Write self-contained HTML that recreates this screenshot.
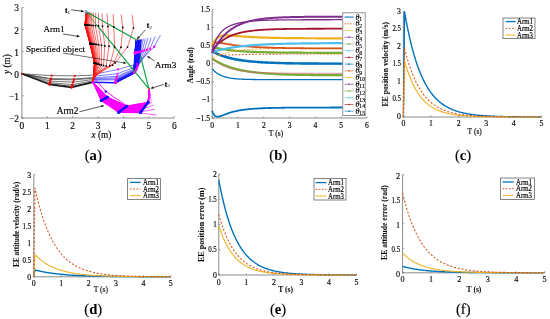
<!DOCTYPE html>
<html><head><meta charset="utf-8"><title>Figure</title>
<style>
html,body{margin:0;padding:0;background:#fff;}
svg{display:block;font-family:"Liberation Serif","DejaVu Serif",serif;filter:blur(0.35px);}
text{stroke:#000;stroke-width:0.16px;}
text[font-weight="bold"],tspan[font-weight="bold"]{stroke-width:0.04px;}
</style></head><body>
<svg width="550" height="319" viewBox="0 0 550 319">
<rect width="550" height="319" fill="#fff"/>
<line x1="21.9" y1="7.5" x2="21.9" y2="118.5" stroke="#6e6e6e" stroke-width="0.8" />
<line x1="21.4" y1="118" x2="174.3" y2="118" stroke="#6e6e6e" stroke-width="0.8" />
<line x1="21.9" y1="118" x2="21.9" y2="116.2" stroke="#6e6e6e" stroke-width="0.6400000000000001" />
<text x="21.9" y="128.8" font-size="9.4" text-anchor="middle" fill="#0a0a0a">0</text>
<line x1="47.3" y1="118" x2="47.3" y2="116.2" stroke="#6e6e6e" stroke-width="0.6400000000000001" />
<text x="47.3" y="128.8" font-size="9.4" text-anchor="middle" fill="#0a0a0a">1</text>
<line x1="72.7" y1="118" x2="72.7" y2="116.2" stroke="#6e6e6e" stroke-width="0.6400000000000001" />
<text x="72.7" y="128.8" font-size="9.4" text-anchor="middle" fill="#0a0a0a">2</text>
<line x1="98.1" y1="118" x2="98.1" y2="116.2" stroke="#6e6e6e" stroke-width="0.6400000000000001" />
<text x="98.1" y="128.8" font-size="9.4" text-anchor="middle" fill="#0a0a0a">3</text>
<line x1="123.5" y1="118" x2="123.5" y2="116.2" stroke="#6e6e6e" stroke-width="0.6400000000000001" />
<text x="123.5" y="128.8" font-size="9.4" text-anchor="middle" fill="#0a0a0a">4</text>
<line x1="148.9" y1="118" x2="148.9" y2="116.2" stroke="#6e6e6e" stroke-width="0.6400000000000001" />
<text x="148.9" y="128.8" font-size="9.4" text-anchor="middle" fill="#0a0a0a">5</text>
<line x1="174.3" y1="118" x2="174.3" y2="116.2" stroke="#6e6e6e" stroke-width="0.6400000000000001" />
<text x="174.3" y="128.8" font-size="9.4" text-anchor="middle" fill="#0a0a0a">6</text>
<line x1="21.9" y1="7.5" x2="23.7" y2="7.5" stroke="#6e6e6e" stroke-width="0.6400000000000001" />
<text x="18.9" y="11.45" font-size="9.4" text-anchor="end" fill="#0a0a0a">3</text>
<line x1="21.9" y1="29.6" x2="23.7" y2="29.6" stroke="#6e6e6e" stroke-width="0.6400000000000001" />
<text x="18.9" y="33.55" font-size="9.4" text-anchor="end" fill="#0a0a0a">2</text>
<line x1="21.9" y1="51.7" x2="23.7" y2="51.7" stroke="#6e6e6e" stroke-width="0.6400000000000001" />
<text x="18.9" y="55.65" font-size="9.4" text-anchor="end" fill="#0a0a0a">1</text>
<line x1="21.9" y1="73.8" x2="23.7" y2="73.8" stroke="#6e6e6e" stroke-width="0.6400000000000001" />
<text x="18.9" y="77.75" font-size="9.4" text-anchor="end" fill="#0a0a0a">0</text>
<line x1="21.9" y1="95.9" x2="23.7" y2="95.9" stroke="#6e6e6e" stroke-width="0.6400000000000001" />
<text x="18.9" y="99.85" font-size="9.4" text-anchor="end" fill="#0a0a0a">−1</text>
<line x1="21.9" y1="118" x2="23.7" y2="118" stroke="#6e6e6e" stroke-width="0.6400000000000001" />
<text x="18.9" y="121.95" font-size="9.4" text-anchor="end" fill="#0a0a0a">−2</text>
<text x="101.5" y="137.6" font-size="9.3" text-anchor="middle" fill="#0a0a0a"><tspan font-style="italic">x</tspan> (m)</text>
<text transform="translate(9.9,64) rotate(-90)" font-size="9.3" text-anchor="middle" fill="#0a0a0a"><tspan font-style="italic">y</tspan> (m)</text>
<polyline points="21.9,73.8 51.7,75.6 74.7,75.85 93.5,75.1" fill="none" stroke="#1a1a1a" stroke-width="0.6" stroke-linejoin="round"/>
<polyline points="21.9,73.8 51,78.6 74,79 93.4,77.6" fill="none" stroke="#1a1a1a" stroke-width="0.6" stroke-linejoin="round"/>
<polyline points="21.9,73.8 50.7,79.4 73.8,79.9 93.4,78.2" fill="none" stroke="#1a1a1a" stroke-width="0.6" stroke-linejoin="round"/>
<polyline points="21.9,73.8 50.3,81.1 73.2,82.2 93.3,79.5" fill="none" stroke="#1a1a1a" stroke-width="0.6" stroke-linejoin="round"/>
<polyline points="21.9,73.8 49.9,82.7 72.5,84.6 93.2,80.9" fill="none" stroke="#1a1a1a" stroke-width="0.6" stroke-linejoin="round"/>
<polyline points="21.9,73.8 49.5,83.8 71.9,86.4 93.1,81.8" fill="none" stroke="#1a1a1a" stroke-width="0.9" stroke-linejoin="round"/>
<polyline points="21.9,73.8 49.3,84.5 71.5,87.5 93.1,82.25" fill="none" stroke="#1a1a1a" stroke-width="1.3" stroke-linejoin="round"/>
<circle cx="51.7" cy="75.6" r="1.1" fill="#f00000"/>
<circle cx="74.7" cy="75.85" r="1.1" fill="#f00000"/>
<circle cx="51" cy="78.6" r="1.1" fill="#f00000"/>
<circle cx="74" cy="79" r="1.1" fill="#f00000"/>
<circle cx="50.7" cy="79.4" r="1.1" fill="#f00000"/>
<circle cx="73.8" cy="79.9" r="1.1" fill="#f00000"/>
<circle cx="50.3" cy="81.1" r="1.1" fill="#f00000"/>
<circle cx="73.2" cy="82.2" r="1.1" fill="#f00000"/>
<circle cx="49.9" cy="82.7" r="1.1" fill="#f00000"/>
<circle cx="72.5" cy="84.6" r="1.1" fill="#f00000"/>
<circle cx="49.5" cy="83.8" r="1.1" fill="#f00000"/>
<circle cx="71.9" cy="86.4" r="1.1" fill="#f00000"/>
<circle cx="49.3" cy="84.5" r="1.1" fill="#f00000"/>
<circle cx="71.5" cy="87.5" r="1.1" fill="#f00000"/>
<line x1="49.9" y1="82.7" x2="49.3" y2="84.5" stroke="#f00000" stroke-width="2.0" stroke-linecap="round"/>
<line x1="72.5" y1="84.6" x2="71.5" y2="87.5" stroke="#f00000" stroke-width="2.0" stroke-linecap="round"/>
<circle cx="21.9" cy="73.8" r="1.0" fill="#f00000"/>
<polyline points="93.1,82.25 101,100.5 118.5,112.5 140.3,112.8" fill="none" stroke="#ff00ff" stroke-width="0.66" />
<polyline points="93.1,82.25 101.12,100.44 118.65,112.38 140.44,112.61" fill="none" stroke="#ff00ff" stroke-width="0.66" />
<polyline points="93.1,82.25 101.23,100.38 118.8,112.27 140.59,112.42" fill="none" stroke="#ff00ff" stroke-width="0.66" />
<polyline points="93.1,82.25 101.35,100.31 118.96,112.15 140.73,112.23" fill="none" stroke="#ff00ff" stroke-width="0.66" />
<polyline points="93.1,82.25 101.46,100.25 119.11,112.04 140.87,112.04" fill="none" stroke="#ff00ff" stroke-width="0.66" />
<polyline points="93.1,82.25 101.58,100.19 119.26,111.92 141.01,111.84" fill="none" stroke="#ff00ff" stroke-width="0.66" />
<polyline points="93.1,82.25 101.7,100.12 119.41,111.8 141.16,111.65" fill="none" stroke="#ff00ff" stroke-width="0.66" />
<polyline points="93.1,82.25 101.81,100.06 119.56,111.69 141.3,111.46" fill="none" stroke="#ff00ff" stroke-width="0.66" />
<polyline points="93.1,82.25 101.93,100 119.71,111.57 141.44,111.27" fill="none" stroke="#ff00ff" stroke-width="0.66" />
<polyline points="93.1,82.25 102.04,99.94 119.87,111.46 141.59,111.08" fill="none" stroke="#ff00ff" stroke-width="0.66" />
<polyline points="93.1,82.25 102.16,99.88 120.02,111.34 141.73,110.89" fill="none" stroke="#ff00ff" stroke-width="0.66" />
<polyline points="93.1,82.25 102.28,99.81 120.17,111.22 141.87,110.7" fill="none" stroke="#ff00ff" stroke-width="0.66" />
<polyline points="93.1,82.25 102.39,99.75 120.32,111.11 142.01,110.51" fill="none" stroke="#ff00ff" stroke-width="0.66" />
<polyline points="93.1,82.25 102.51,99.69 120.47,110.99 142.16,110.32" fill="none" stroke="#ff00ff" stroke-width="0.66" />
<polyline points="93.1,82.25 102.62,99.62 120.62,110.88 142.3,110.12" fill="none" stroke="#ff00ff" stroke-width="0.66" />
<polyline points="93.1,82.25 102.74,99.56 120.78,110.76 142.44,109.93" fill="none" stroke="#ff00ff" stroke-width="0.66" />
<polyline points="93.1,82.25 102.86,99.5 120.93,110.64 142.59,109.74" fill="none" stroke="#ff00ff" stroke-width="0.66" />
<polyline points="93.1,82.25 102.97,99.44 121.08,110.53 142.73,109.55" fill="none" stroke="#ff00ff" stroke-width="0.66" />
<polyline points="93.1,82.25 103.09,99.38 121.23,110.41 142.87,109.36" fill="none" stroke="#ff00ff" stroke-width="0.66" />
<polyline points="93.1,82.25 103.21,99.31 121.38,110.29 143.01,109.17" fill="none" stroke="#ff00ff" stroke-width="0.66" />
<polyline points="93.1,82.25 103.32,99.25 121.54,110.18 143.16,108.98" fill="none" stroke="#ff00ff" stroke-width="0.66" />
<polyline points="93.1,82.25 103.44,99.19 121.69,110.06 143.3,108.79" fill="none" stroke="#ff00ff" stroke-width="0.66" />
<polyline points="93.1,82.25 103.55,99.12 121.84,109.95 143.44,108.6" fill="none" stroke="#ff00ff" stroke-width="0.66" />
<polyline points="93.1,82.25 103.67,99.06 121.99,109.83 143.59,108.41" fill="none" stroke="#ff00ff" stroke-width="0.66" />
<polyline points="93.1,82.25 103.79,99 122.14,109.71 143.73,108.21" fill="none" stroke="#ff00ff" stroke-width="0.66" />
<polyline points="93.1,82.25 103.9,98.94 122.29,109.6 143.87,108.02" fill="none" stroke="#ff00ff" stroke-width="0.66" />
<polyline points="93.1,82.25 104.02,98.88 122.45,109.48 144.01,107.83" fill="none" stroke="#ff00ff" stroke-width="0.66" />
<polyline points="93.1,82.25 104.13,98.81 122.6,109.37 144.16,107.64" fill="none" stroke="#ff00ff" stroke-width="0.66" />
<polyline points="93.1,82.25 104.25,98.75 122.75,109.25 144.3,107.45" fill="none" stroke="#ff00ff" stroke-width="0.66" />
<polyline points="93.1,82.25 104.37,98.69 122.9,109.13 144.44,107.26" fill="none" stroke="#ff00ff" stroke-width="0.66" />
<polyline points="93.1,82.25 104.48,98.62 123.05,109.02 144.59,107.07" fill="none" stroke="#ff00ff" stroke-width="0.66" />
<polyline points="93.1,82.25 104.6,98.56 123.21,108.9 144.73,106.88" fill="none" stroke="#ff00ff" stroke-width="0.66" />
<polyline points="93.1,82.25 104.71,98.5 123.36,108.79 144.87,106.69" fill="none" stroke="#ff00ff" stroke-width="0.66" />
<polyline points="93.1,82.25 104.83,98.44 123.51,108.67 145.01,106.49" fill="none" stroke="#ff00ff" stroke-width="0.66" />
<polyline points="93.1,82.25 104.95,98.38 123.66,108.55 145.16,106.3" fill="none" stroke="#ff00ff" stroke-width="0.66" />
<polyline points="93.1,82.25 105.06,98.31 123.81,108.44 145.3,106.11" fill="none" stroke="#ff00ff" stroke-width="0.66" />
<polyline points="93.1,82.25 105.18,98.25 123.96,108.32 145.44,105.92" fill="none" stroke="#ff00ff" stroke-width="0.66" />
<polyline points="93.1,82.25 105.29,98.19 124.12,108.21 145.59,105.73" fill="none" stroke="#ff00ff" stroke-width="0.66" />
<polyline points="93.1,82.25 105.41,98.12 124.27,108.09 145.73,105.54" fill="none" stroke="#ff00ff" stroke-width="0.66" />
<polyline points="93.1,82.25 105.53,98.06 124.42,107.97 145.87,105.35" fill="none" stroke="#ff00ff" stroke-width="0.66" />
<polyline points="93.1,82.25 105.64,98 124.57,107.86 146.01,105.16" fill="none" stroke="#ff00ff" stroke-width="0.66" />
<polyline points="93.1,82.25 105.76,97.94 124.72,107.74 146.16,104.97" fill="none" stroke="#ff00ff" stroke-width="0.66" />
<polyline points="93.1,82.25 105.88,97.88 124.88,107.62 146.3,104.77" fill="none" stroke="#ff00ff" stroke-width="0.66" />
<polyline points="93.1,82.25 105.99,97.81 125.03,107.51 146.44,104.58" fill="none" stroke="#ff00ff" stroke-width="0.66" />
<polyline points="93.1,82.25 106.11,97.75 125.18,107.39 146.59,104.39" fill="none" stroke="#ff00ff" stroke-width="0.66" />
<polyline points="93.1,82.25 106.22,97.69 125.33,107.28 146.73,104.2" fill="none" stroke="#ff00ff" stroke-width="0.66" />
<polyline points="93.1,82.25 106.34,97.62 125.48,107.16 146.87,104.01" fill="none" stroke="#ff00ff" stroke-width="0.66" />
<polyline points="93.1,82.25 106.46,97.56 125.63,107.04 147.01,103.82" fill="none" stroke="#ff00ff" stroke-width="0.66" />
<polyline points="93.1,82.25 106.57,97.5 125.79,106.93 147.16,103.63" fill="none" stroke="#ff00ff" stroke-width="0.66" />
<polyline points="93.1,82.25 106.69,97.44 125.94,106.81 147.3,103.44" fill="none" stroke="#ff00ff" stroke-width="0.66" />
<polyline points="93.1,82.25 106.8,97.38 126.09,106.7 147.44,103.25" fill="none" stroke="#ff00ff" stroke-width="0.66" />
<polyline points="93.1,82.25 106.92,97.31 126.24,106.58 147.59,103.06" fill="none" stroke="#ff00ff" stroke-width="0.66" />
<polyline points="93.1,82.25 107.04,97.25 126.39,106.46 147.73,102.86" fill="none" stroke="#ff00ff" stroke-width="0.66" />
<polyline points="93.1,82.25 107.15,97.19 126.54,106.35 147.87,102.67" fill="none" stroke="#ff00ff" stroke-width="0.66" />
<polyline points="93.1,82.25 107.27,97.12 126.7,106.23 148.01,102.48" fill="none" stroke="#ff00ff" stroke-width="0.66" />
<polyline points="93.1,82.25 107.38,97.06 126.85,106.12 148.16,102.29" fill="none" stroke="#ff00ff" stroke-width="0.66" />
<polyline points="93.1,82.25 107.5,97 127,106 148.3,102.1" fill="none" stroke="#ff00ff" stroke-width="0.66" />
<polyline points="140.3,112.8 156.85,115.2" fill="none" stroke="#ff00ff" stroke-width="0.65" />
<polyline points="141.26,111.52 154.7,109.4" fill="none" stroke="#ff00ff" stroke-width="0.65" />
<polyline points="143.1,109.05 153.1,105.3" fill="none" stroke="#ff00ff" stroke-width="0.65" />
<polyline points="145.1,106.38 152.3,102.1" fill="none" stroke="#ff00ff" stroke-width="0.65" />
<polyline points="146.3,104.77 151.8,99.5" fill="none" stroke="#ff00ff" stroke-width="0.65" />
<polyline points="147.1,103.7 151.2,97" fill="none" stroke="#ff00ff" stroke-width="0.65" />
<polyline points="147.46,103.22 150.69,95.2" fill="none" stroke="#ff00ff" stroke-width="0.8" />
<polyline points="147.71,102.89 150.3,93.79" fill="none" stroke="#ff00ff" stroke-width="0.8" />
<polyline points="147.89,102.65 149.99,92.69" fill="none" stroke="#ff00ff" stroke-width="0.8" />
<polyline points="148.01,102.49 149.75,91.84" fill="none" stroke="#ff00ff" stroke-width="0.8" />
<polyline points="148.1,102.37 149.56,91.17" fill="none" stroke="#ff00ff" stroke-width="0.8" />
<polyline points="148.16,102.29 149.42,90.65" fill="none" stroke="#ff00ff" stroke-width="0.8" />
<polyline points="148.2,102.23 149.3,90.24" fill="none" stroke="#ff00ff" stroke-width="0.8" />
<polyline points="148.23,102.19 149.22,89.92" fill="none" stroke="#ff00ff" stroke-width="0.8" />
<polyline points="148.25,102.16 149.15,89.68" fill="none" stroke="#ff00ff" stroke-width="0.8" />
<polyline points="148.27,102.15 149.09,89.48" fill="none" stroke="#ff00ff" stroke-width="0.8" />
<polyline points="148.28,102.13 149.05,89.33" fill="none" stroke="#ff00ff" stroke-width="0.8" />
<polyline points="148.28,102.12 149.02,89.22" fill="none" stroke="#ff00ff" stroke-width="0.8" />
<polyline points="148.29,102.12 148.99,89.12" fill="none" stroke="#ff00ff" stroke-width="0.8" />
<polyline points="148.29,102.11 148.97,89.05" fill="none" stroke="#ff00ff" stroke-width="0.8" />
<polyline points="148.29,102.11 148.96,89" fill="none" stroke="#ff00ff" stroke-width="0.8" />
<polyline points="148.3,102.11 148.94,88.95" fill="none" stroke="#ff00ff" stroke-width="0.8" />
<polyline points="148.3,102.1 148.93,88.92" fill="none" stroke="#ff00ff" stroke-width="0.8" />
<polyline points="148.3,102.1 148.93,88.89" fill="none" stroke="#ff00ff" stroke-width="0.8" />
<polyline points="148.3,102.1 148.92,88.87" fill="none" stroke="#ff00ff" stroke-width="0.8" />
<polyline points="148.3,102.1 148.92,88.86" fill="none" stroke="#ff00ff" stroke-width="0.8" />
<polyline points="148.3,102.1 148.9,88.8" fill="none" stroke="#ff00ff" stroke-width="0.8" />
<polyline points="93.5,76.5 105.8,91.5 127,106" fill="none" stroke="#ff00ff" stroke-width="0.6" />
<polyline points="93.4,79 107.5,92.5 127,106" fill="none" stroke="#ff00ff" stroke-width="0.6" />
<circle cx="101" cy="100.5" r="1.3" fill="#1414ff"/>
<circle cx="118.5" cy="112.5" r="1.3" fill="#1414ff"/>
<circle cx="140.3" cy="112.8" r="1.3" fill="#1414ff"/>
<circle cx="101.12" cy="100.44" r="1.3" fill="#1414ff"/>
<circle cx="118.65" cy="112.38" r="1.3" fill="#1414ff"/>
<circle cx="140.44" cy="112.61" r="1.3" fill="#1414ff"/>
<circle cx="101.23" cy="100.38" r="1.3" fill="#1414ff"/>
<circle cx="118.8" cy="112.27" r="1.3" fill="#1414ff"/>
<circle cx="140.59" cy="112.42" r="1.3" fill="#1414ff"/>
<circle cx="101.35" cy="100.31" r="1.3" fill="#1414ff"/>
<circle cx="118.96" cy="112.15" r="1.3" fill="#1414ff"/>
<circle cx="140.73" cy="112.23" r="1.3" fill="#1414ff"/>
<circle cx="101.46" cy="100.25" r="0.95" fill="#1414ff"/>
<circle cx="119.11" cy="112.04" r="0.95" fill="#1414ff"/>
<circle cx="140.87" cy="112.04" r="0.95" fill="#1414ff"/>
<circle cx="101.58" cy="100.19" r="0.95" fill="#1414ff"/>
<circle cx="119.26" cy="111.92" r="0.95" fill="#1414ff"/>
<circle cx="141.01" cy="111.84" r="0.95" fill="#1414ff"/>
<circle cx="101.7" cy="100.12" r="0.95" fill="#1414ff"/>
<circle cx="119.41" cy="111.8" r="0.95" fill="#1414ff"/>
<circle cx="141.16" cy="111.65" r="0.95" fill="#1414ff"/>
<circle cx="101.81" cy="100.06" r="0.95" fill="#1414ff"/>
<circle cx="119.56" cy="111.69" r="0.95" fill="#1414ff"/>
<circle cx="141.3" cy="111.46" r="0.95" fill="#1414ff"/>
<circle cx="101.93" cy="100" r="0.95" fill="#1414ff"/>
<circle cx="119.71" cy="111.57" r="0.95" fill="#1414ff"/>
<circle cx="141.44" cy="111.27" r="0.95" fill="#1414ff"/>
<circle cx="102.04" cy="99.94" r="0.95" fill="#1414ff"/>
<circle cx="119.87" cy="111.46" r="0.95" fill="#1414ff"/>
<circle cx="141.59" cy="111.08" r="0.95" fill="#1414ff"/>
<circle cx="102.16" cy="99.88" r="0.95" fill="#1414ff"/>
<circle cx="120.02" cy="111.34" r="0.95" fill="#1414ff"/>
<circle cx="141.73" cy="110.89" r="0.95" fill="#1414ff"/>
<circle cx="102.28" cy="99.81" r="0.95" fill="#1414ff"/>
<circle cx="120.17" cy="111.22" r="0.95" fill="#1414ff"/>
<circle cx="141.87" cy="110.7" r="0.95" fill="#1414ff"/>
<circle cx="102.39" cy="99.75" r="0.95" fill="#1414ff"/>
<circle cx="120.32" cy="111.11" r="0.95" fill="#1414ff"/>
<circle cx="142.01" cy="110.51" r="0.95" fill="#1414ff"/>
<circle cx="102.51" cy="99.69" r="0.95" fill="#1414ff"/>
<circle cx="120.47" cy="110.99" r="0.95" fill="#1414ff"/>
<circle cx="142.16" cy="110.32" r="0.95" fill="#1414ff"/>
<circle cx="102.62" cy="99.62" r="0.95" fill="#1414ff"/>
<circle cx="120.62" cy="110.88" r="0.95" fill="#1414ff"/>
<circle cx="142.3" cy="110.12" r="0.95" fill="#1414ff"/>
<circle cx="102.74" cy="99.56" r="0.95" fill="#1414ff"/>
<circle cx="120.78" cy="110.76" r="0.95" fill="#1414ff"/>
<circle cx="142.44" cy="109.93" r="0.95" fill="#1414ff"/>
<circle cx="102.86" cy="99.5" r="0.95" fill="#1414ff"/>
<circle cx="120.93" cy="110.64" r="0.95" fill="#1414ff"/>
<circle cx="142.59" cy="109.74" r="0.95" fill="#1414ff"/>
<circle cx="102.97" cy="99.44" r="0.95" fill="#1414ff"/>
<circle cx="121.08" cy="110.53" r="0.95" fill="#1414ff"/>
<circle cx="142.73" cy="109.55" r="0.95" fill="#1414ff"/>
<circle cx="103.09" cy="99.38" r="0.95" fill="#1414ff"/>
<circle cx="121.23" cy="110.41" r="0.95" fill="#1414ff"/>
<circle cx="142.87" cy="109.36" r="0.95" fill="#1414ff"/>
<circle cx="103.21" cy="99.31" r="0.95" fill="#1414ff"/>
<circle cx="121.38" cy="110.29" r="0.95" fill="#1414ff"/>
<circle cx="143.01" cy="109.17" r="0.95" fill="#1414ff"/>
<circle cx="103.32" cy="99.25" r="0.95" fill="#1414ff"/>
<circle cx="121.54" cy="110.18" r="0.95" fill="#1414ff"/>
<circle cx="143.16" cy="108.98" r="0.95" fill="#1414ff"/>
<circle cx="103.44" cy="99.19" r="0.95" fill="#1414ff"/>
<circle cx="121.69" cy="110.06" r="0.95" fill="#1414ff"/>
<circle cx="143.3" cy="108.79" r="0.95" fill="#1414ff"/>
<circle cx="103.55" cy="99.12" r="0.95" fill="#1414ff"/>
<circle cx="121.84" cy="109.95" r="0.95" fill="#1414ff"/>
<circle cx="143.44" cy="108.6" r="0.95" fill="#1414ff"/>
<circle cx="103.67" cy="99.06" r="0.95" fill="#1414ff"/>
<circle cx="121.99" cy="109.83" r="0.95" fill="#1414ff"/>
<circle cx="143.59" cy="108.41" r="0.95" fill="#1414ff"/>
<circle cx="103.79" cy="99" r="0.95" fill="#1414ff"/>
<circle cx="122.14" cy="109.71" r="0.95" fill="#1414ff"/>
<circle cx="143.73" cy="108.21" r="0.95" fill="#1414ff"/>
<circle cx="103.9" cy="98.94" r="0.95" fill="#1414ff"/>
<circle cx="122.29" cy="109.6" r="0.95" fill="#1414ff"/>
<circle cx="143.87" cy="108.02" r="0.95" fill="#1414ff"/>
<circle cx="104.02" cy="98.88" r="0.95" fill="#1414ff"/>
<circle cx="122.45" cy="109.48" r="0.95" fill="#1414ff"/>
<circle cx="144.01" cy="107.83" r="0.95" fill="#1414ff"/>
<circle cx="104.13" cy="98.81" r="0.95" fill="#1414ff"/>
<circle cx="122.6" cy="109.37" r="0.95" fill="#1414ff"/>
<circle cx="144.16" cy="107.64" r="0.95" fill="#1414ff"/>
<circle cx="104.25" cy="98.75" r="0.95" fill="#1414ff"/>
<circle cx="122.75" cy="109.25" r="0.95" fill="#1414ff"/>
<circle cx="144.3" cy="107.45" r="0.95" fill="#1414ff"/>
<circle cx="104.37" cy="98.69" r="0.95" fill="#1414ff"/>
<circle cx="122.9" cy="109.13" r="0.95" fill="#1414ff"/>
<circle cx="144.44" cy="107.26" r="0.95" fill="#1414ff"/>
<circle cx="104.48" cy="98.62" r="0.95" fill="#1414ff"/>
<circle cx="123.05" cy="109.02" r="0.95" fill="#1414ff"/>
<circle cx="144.59" cy="107.07" r="0.95" fill="#1414ff"/>
<circle cx="104.6" cy="98.56" r="0.95" fill="#1414ff"/>
<circle cx="123.21" cy="108.9" r="0.95" fill="#1414ff"/>
<circle cx="144.73" cy="106.88" r="0.95" fill="#1414ff"/>
<circle cx="104.71" cy="98.5" r="0.95" fill="#1414ff"/>
<circle cx="123.36" cy="108.79" r="0.95" fill="#1414ff"/>
<circle cx="144.87" cy="106.69" r="0.95" fill="#1414ff"/>
<circle cx="104.83" cy="98.44" r="0.95" fill="#1414ff"/>
<circle cx="123.51" cy="108.67" r="0.95" fill="#1414ff"/>
<circle cx="145.01" cy="106.49" r="0.95" fill="#1414ff"/>
<circle cx="104.95" cy="98.38" r="0.95" fill="#1414ff"/>
<circle cx="123.66" cy="108.55" r="0.95" fill="#1414ff"/>
<circle cx="145.16" cy="106.3" r="0.95" fill="#1414ff"/>
<circle cx="105.06" cy="98.31" r="0.95" fill="#1414ff"/>
<circle cx="123.81" cy="108.44" r="0.95" fill="#1414ff"/>
<circle cx="145.3" cy="106.11" r="0.95" fill="#1414ff"/>
<circle cx="105.18" cy="98.25" r="0.95" fill="#1414ff"/>
<circle cx="123.96" cy="108.32" r="0.95" fill="#1414ff"/>
<circle cx="145.44" cy="105.92" r="0.95" fill="#1414ff"/>
<circle cx="105.29" cy="98.19" r="0.95" fill="#1414ff"/>
<circle cx="124.12" cy="108.21" r="0.95" fill="#1414ff"/>
<circle cx="145.59" cy="105.73" r="0.95" fill="#1414ff"/>
<circle cx="105.41" cy="98.12" r="0.95" fill="#1414ff"/>
<circle cx="124.27" cy="108.09" r="0.95" fill="#1414ff"/>
<circle cx="145.73" cy="105.54" r="0.95" fill="#1414ff"/>
<circle cx="105.53" cy="98.06" r="0.95" fill="#1414ff"/>
<circle cx="124.42" cy="107.97" r="0.95" fill="#1414ff"/>
<circle cx="145.87" cy="105.35" r="0.95" fill="#1414ff"/>
<circle cx="105.64" cy="98" r="0.95" fill="#1414ff"/>
<circle cx="124.57" cy="107.86" r="0.95" fill="#1414ff"/>
<circle cx="146.01" cy="105.16" r="0.95" fill="#1414ff"/>
<circle cx="105.76" cy="97.94" r="0.95" fill="#1414ff"/>
<circle cx="124.72" cy="107.74" r="0.95" fill="#1414ff"/>
<circle cx="146.16" cy="104.97" r="0.95" fill="#1414ff"/>
<circle cx="105.88" cy="97.88" r="0.95" fill="#1414ff"/>
<circle cx="124.88" cy="107.62" r="0.95" fill="#1414ff"/>
<circle cx="146.3" cy="104.77" r="0.95" fill="#1414ff"/>
<circle cx="105.99" cy="97.81" r="0.95" fill="#1414ff"/>
<circle cx="125.03" cy="107.51" r="0.95" fill="#1414ff"/>
<circle cx="146.44" cy="104.58" r="0.95" fill="#1414ff"/>
<circle cx="106.11" cy="97.75" r="0.95" fill="#1414ff"/>
<circle cx="125.18" cy="107.39" r="0.95" fill="#1414ff"/>
<circle cx="146.59" cy="104.39" r="0.95" fill="#1414ff"/>
<circle cx="106.22" cy="97.69" r="0.95" fill="#1414ff"/>
<circle cx="125.33" cy="107.28" r="0.95" fill="#1414ff"/>
<circle cx="146.73" cy="104.2" r="0.95" fill="#1414ff"/>
<circle cx="106.34" cy="97.62" r="0.95" fill="#1414ff"/>
<circle cx="125.48" cy="107.16" r="0.95" fill="#1414ff"/>
<circle cx="146.87" cy="104.01" r="0.95" fill="#1414ff"/>
<circle cx="106.46" cy="97.56" r="0.95" fill="#1414ff"/>
<circle cx="125.63" cy="107.04" r="0.95" fill="#1414ff"/>
<circle cx="147.01" cy="103.82" r="0.95" fill="#1414ff"/>
<circle cx="106.57" cy="97.5" r="0.95" fill="#1414ff"/>
<circle cx="125.79" cy="106.93" r="0.95" fill="#1414ff"/>
<circle cx="147.16" cy="103.63" r="0.95" fill="#1414ff"/>
<circle cx="106.69" cy="97.44" r="0.95" fill="#1414ff"/>
<circle cx="125.94" cy="106.81" r="0.95" fill="#1414ff"/>
<circle cx="147.3" cy="103.44" r="0.95" fill="#1414ff"/>
<circle cx="106.8" cy="97.38" r="0.95" fill="#1414ff"/>
<circle cx="126.09" cy="106.7" r="0.95" fill="#1414ff"/>
<circle cx="147.44" cy="103.25" r="0.95" fill="#1414ff"/>
<circle cx="106.92" cy="97.31" r="0.95" fill="#1414ff"/>
<circle cx="126.24" cy="106.58" r="0.95" fill="#1414ff"/>
<circle cx="147.59" cy="103.06" r="0.95" fill="#1414ff"/>
<circle cx="107.04" cy="97.25" r="0.95" fill="#1414ff"/>
<circle cx="126.39" cy="106.46" r="0.95" fill="#1414ff"/>
<circle cx="147.73" cy="102.86" r="0.95" fill="#1414ff"/>
<circle cx="107.15" cy="97.19" r="1.3" fill="#1414ff"/>
<circle cx="126.54" cy="106.35" r="1.3" fill="#1414ff"/>
<circle cx="147.87" cy="102.67" r="1.3" fill="#1414ff"/>
<circle cx="107.27" cy="97.12" r="1.3" fill="#1414ff"/>
<circle cx="126.7" cy="106.23" r="1.3" fill="#1414ff"/>
<circle cx="148.01" cy="102.48" r="1.3" fill="#1414ff"/>
<circle cx="107.38" cy="97.06" r="1.3" fill="#1414ff"/>
<circle cx="126.85" cy="106.12" r="1.3" fill="#1414ff"/>
<circle cx="148.16" cy="102.29" r="1.3" fill="#1414ff"/>
<circle cx="107.5" cy="97" r="1.3" fill="#1414ff"/>
<circle cx="127" cy="106" r="1.3" fill="#1414ff"/>
<circle cx="148.3" cy="102.1" r="1.3" fill="#1414ff"/>
<circle cx="105.8" cy="91.5" r="1.2" fill="#1414ff"/>
<polyline points="93.5,74.5 118,69.4 137.3,64 154.2,46.8 160.5,35" fill="none" stroke="#1414ff" stroke-width="0.55" stroke-linejoin="round"/>
<polyline points="93.41,76.28 117.5,73.75 137.6,66 150,48.7 155,36.8" fill="none" stroke="#1414ff" stroke-width="0.55" stroke-linejoin="round"/>
<polyline points="93.34,77.66 117,76.3 137.2,67.6 147,49.8 151.2,37.5" fill="none" stroke="#1414ff" stroke-width="0.55" stroke-linejoin="round"/>
<polyline points="93.28,78.71 116.6,77.78 136.46,68.84 144.24,50.54 148,38" fill="none" stroke="#1414ff" stroke-width="0.55" stroke-linejoin="round"/>
<polyline points="93.24,79.53 116.29,78.93 135.9,69.8 142.11,51.1 145.5,38.5" fill="none" stroke="#1414ff" stroke-width="0.55" stroke-linejoin="round"/>
<polyline points="93.21,80.15 116.05,79.81 135.46,70.53 140.48,51.54 143.38,38.8" fill="none" stroke="#1414ff" stroke-width="0.55" stroke-linejoin="round"/>
<polyline points="115.87,80.48 135.12,71.1 139.22,51.88 141.75,39.03" fill="none" stroke="#1414ff" stroke-width="0.7" />
<polyline points="115.72,81 134.87,71.54 138.25,52.13 140.5,39.21" fill="none" stroke="#1414ff" stroke-width="0.7" />
<polyline points="115.61,81.41 134.67,71.87 137.5,52.33 139.53,39.34" fill="none" stroke="#1414ff" stroke-width="0.7" />
<polyline points="115.53,81.71 134.51,72.13 136.93,52.49 138.79,39.45" fill="none" stroke="#1414ff" stroke-width="0.7" />
<polyline points="115.47,81.95 134.4,72.33 136.48,52.6 138.22,39.53" fill="none" stroke="#1414ff" stroke-width="0.7" />
<polyline points="115.42,82.14 134.3,72.49 136.14,52.7 137.78,39.59" fill="none" stroke="#1414ff" stroke-width="0.7" />
<polyline points="115.38,82.28 134.23,72.6 135.88,52.77 137.44,39.64" fill="none" stroke="#1414ff" stroke-width="0.7" />
<polyline points="115.35,82.39 134.18,72.7 135.68,52.82 137.18,39.68" fill="none" stroke="#1414ff" stroke-width="0.7" />
<polyline points="115.33,82.47 134.14,72.77 135.52,52.86 136.97,39.7" fill="none" stroke="#1414ff" stroke-width="0.7" />
<polyline points="115.31,82.53 134.11,72.82 135.4,52.89 136.82,39.73" fill="none" stroke="#1414ff" stroke-width="0.7" />
<polyline points="115.3,82.58 134.08,72.86 135.31,52.92 136.7,39.74" fill="none" stroke="#1414ff" stroke-width="0.7" />
<polyline points="115.28,82.62 134.06,72.89 135.24,52.94 136.61,39.76" fill="none" stroke="#1414ff" stroke-width="0.7" />
<polyline points="115.28,82.65 134.05,72.92 135.18,52.95 136.54,39.77" fill="none" stroke="#1414ff" stroke-width="0.7" />
<polyline points="115.27,82.67 134.04,72.94 135.14,52.96 136.48,39.77" fill="none" stroke="#1414ff" stroke-width="0.7" />
<polyline points="115.27,82.69 134.03,72.95 135.11,52.97 136.44,39.78" fill="none" stroke="#1414ff" stroke-width="0.7" />
<polyline points="115.26,82.71 134.02,72.96 135.08,52.98 136.41,39.78" fill="none" stroke="#1414ff" stroke-width="0.7" />
<polyline points="115.26,82.72 134.02,72.97 135.06,52.98 136.38,39.79" fill="none" stroke="#1414ff" stroke-width="0.7" />
<polyline points="115.26,82.72 134.01,72.98 135.05,52.99 136.36,39.79" fill="none" stroke="#1414ff" stroke-width="0.7" />
<polyline points="115.26,82.73 134.01,72.98 135.04,52.99 136.35,39.79" fill="none" stroke="#1414ff" stroke-width="0.7" />
<polyline points="115.25,82.73 134.01,72.99 135.03,52.99 136.34,39.79" fill="none" stroke="#1414ff" stroke-width="0.7" />
<polyline points="115.25,82.74 134.01,72.99 135.02,52.99 136.33,39.8" fill="none" stroke="#1414ff" stroke-width="0.7" />
<polyline points="115.25,82.74 134,72.99 135.02,53 136.32,39.8" fill="none" stroke="#1414ff" stroke-width="0.7" />
<polyline points="115.25,82.74 134,72.99 135.01,53 136.32,39.8" fill="none" stroke="#1414ff" stroke-width="0.7" />
<polyline points="115.25,82.74 134,73 135.01,53 136.31,39.8" fill="none" stroke="#1414ff" stroke-width="0.7" />
<polyline points="93.1,82.25 115.25,82.75 134,73 135,53 136.3,39.8" fill="none" stroke="#1414ff" stroke-width="1.6" stroke-linejoin="round"/>
<polygon points="135.2,40.2 141.4,40.0 140.6,57 137.2,70.5 134.2,73.6 133.5,72 134.9,53" fill="#1414ff"/>
<circle cx="118" cy="69.4" r="1.1" fill="#ff00ff"/>
<circle cx="137.3" cy="64" r="1.1" fill="#ff00ff"/>
<circle cx="154.2" cy="46.8" r="1.2" fill="#ff00ff"/>
<circle cx="117.5" cy="73.75" r="1.1" fill="#ff00ff"/>
<circle cx="137.6" cy="66" r="1.1" fill="#ff00ff"/>
<circle cx="150" cy="48.7" r="1.2" fill="#ff00ff"/>
<circle cx="117" cy="76.3" r="1.1" fill="#ff00ff"/>
<circle cx="137.2" cy="67.6" r="1.1" fill="#ff00ff"/>
<circle cx="147" cy="49.8" r="1.2" fill="#ff00ff"/>
<circle cx="116.6" cy="77.78" r="1.1" fill="#ff00ff"/>
<circle cx="136.46" cy="68.84" r="1.1" fill="#ff00ff"/>
<circle cx="144.24" cy="50.54" r="1.2" fill="#ff00ff"/>
<circle cx="116.29" cy="78.93" r="1.1" fill="#ff00ff"/>
<circle cx="135.9" cy="69.8" r="1.1" fill="#ff00ff"/>
<circle cx="142.11" cy="51.1" r="1.2" fill="#ff00ff"/>
<circle cx="116.05" cy="79.81" r="1.1" fill="#ff00ff"/>
<circle cx="135.46" cy="70.53" r="1.1" fill="#ff00ff"/>
<circle cx="140.48" cy="51.54" r="1.2" fill="#ff00ff"/>
<circle cx="115.87" cy="80.48" r="1.1" fill="#ff00ff"/>
<circle cx="135.12" cy="71.1" r="1.1" fill="#ff00ff"/>
<circle cx="139.22" cy="51.88" r="1.2" fill="#ff00ff"/>
<circle cx="115.72" cy="81" r="1.1" fill="#ff00ff"/>
<circle cx="134.87" cy="71.54" r="1.1" fill="#ff00ff"/>
<circle cx="138.25" cy="52.13" r="1.2" fill="#ff00ff"/>
<circle cx="115.61" cy="81.41" r="1.1" fill="#ff00ff"/>
<circle cx="134.67" cy="71.87" r="1.1" fill="#ff00ff"/>
<circle cx="137.5" cy="52.33" r="1.2" fill="#ff00ff"/>
<circle cx="115.53" cy="81.71" r="1.1" fill="#ff00ff"/>
<circle cx="134.51" cy="72.13" r="1.1" fill="#ff00ff"/>
<circle cx="136.93" cy="52.49" r="1.2" fill="#ff00ff"/>
<circle cx="115.47" cy="81.95" r="1.1" fill="#ff00ff"/>
<circle cx="134.4" cy="72.33" r="1.1" fill="#ff00ff"/>
<circle cx="136.48" cy="52.6" r="1.2" fill="#ff00ff"/>
<circle cx="115.42" cy="82.14" r="1.1" fill="#ff00ff"/>
<circle cx="134.3" cy="72.49" r="1.1" fill="#ff00ff"/>
<circle cx="136.14" cy="52.7" r="1.2" fill="#ff00ff"/>
<circle cx="115.38" cy="82.28" r="1.1" fill="#ff00ff"/>
<circle cx="134.23" cy="72.6" r="1.1" fill="#ff00ff"/>
<circle cx="135.88" cy="52.77" r="1.2" fill="#ff00ff"/>
<circle cx="115.35" cy="82.39" r="1.1" fill="#ff00ff"/>
<circle cx="134.18" cy="72.7" r="1.1" fill="#ff00ff"/>
<circle cx="135.68" cy="52.82" r="1.2" fill="#ff00ff"/>
<circle cx="115.33" cy="82.47" r="1.1" fill="#ff00ff"/>
<circle cx="134.14" cy="72.77" r="1.1" fill="#ff00ff"/>
<circle cx="135.52" cy="52.86" r="1.2" fill="#ff00ff"/>
<circle cx="115.31" cy="82.53" r="1.1" fill="#ff00ff"/>
<circle cx="134.11" cy="72.82" r="1.1" fill="#ff00ff"/>
<circle cx="135.4" cy="52.89" r="1.2" fill="#ff00ff"/>
<circle cx="115.3" cy="82.58" r="1.1" fill="#ff00ff"/>
<circle cx="134.08" cy="72.86" r="1.1" fill="#ff00ff"/>
<circle cx="135.31" cy="52.92" r="1.2" fill="#ff00ff"/>
<circle cx="115.28" cy="82.62" r="1.1" fill="#ff00ff"/>
<circle cx="134.06" cy="72.89" r="1.1" fill="#ff00ff"/>
<circle cx="135.24" cy="52.94" r="1.2" fill="#ff00ff"/>
<circle cx="115.28" cy="82.65" r="1.1" fill="#ff00ff"/>
<circle cx="134.05" cy="72.92" r="1.1" fill="#ff00ff"/>
<circle cx="135.18" cy="52.95" r="1.2" fill="#ff00ff"/>
<circle cx="115.27" cy="82.67" r="1.1" fill="#ff00ff"/>
<circle cx="134.04" cy="72.94" r="1.1" fill="#ff00ff"/>
<circle cx="135.14" cy="52.96" r="1.2" fill="#ff00ff"/>
<circle cx="115.27" cy="82.69" r="1.1" fill="#ff00ff"/>
<circle cx="134.03" cy="72.95" r="1.1" fill="#ff00ff"/>
<circle cx="135.11" cy="52.97" r="1.2" fill="#ff00ff"/>
<circle cx="115.26" cy="82.71" r="1.1" fill="#ff00ff"/>
<circle cx="134.02" cy="72.96" r="1.1" fill="#ff00ff"/>
<circle cx="135.08" cy="52.98" r="1.2" fill="#ff00ff"/>
<circle cx="115.26" cy="82.72" r="1.1" fill="#ff00ff"/>
<circle cx="134.02" cy="72.97" r="1.1" fill="#ff00ff"/>
<circle cx="135.06" cy="52.98" r="1.2" fill="#ff00ff"/>
<circle cx="115.26" cy="82.72" r="1.1" fill="#ff00ff"/>
<circle cx="134.01" cy="72.98" r="1.1" fill="#ff00ff"/>
<circle cx="135.05" cy="52.99" r="1.2" fill="#ff00ff"/>
<circle cx="115.26" cy="82.73" r="1.1" fill="#ff00ff"/>
<circle cx="134.01" cy="72.98" r="1.1" fill="#ff00ff"/>
<circle cx="135.04" cy="52.99" r="1.2" fill="#ff00ff"/>
<circle cx="115.25" cy="82.73" r="1.1" fill="#ff00ff"/>
<circle cx="134.01" cy="72.99" r="1.1" fill="#ff00ff"/>
<circle cx="135.03" cy="52.99" r="1.2" fill="#ff00ff"/>
<circle cx="115.25" cy="82.74" r="1.1" fill="#ff00ff"/>
<circle cx="134.01" cy="72.99" r="1.1" fill="#ff00ff"/>
<circle cx="135.02" cy="52.99" r="1.2" fill="#ff00ff"/>
<circle cx="115.25" cy="82.74" r="1.1" fill="#ff00ff"/>
<circle cx="134" cy="72.99" r="1.1" fill="#ff00ff"/>
<circle cx="135.02" cy="53" r="1.2" fill="#ff00ff"/>
<circle cx="115.25" cy="82.74" r="1.1" fill="#ff00ff"/>
<circle cx="134" cy="72.99" r="1.1" fill="#ff00ff"/>
<circle cx="135.01" cy="53" r="1.2" fill="#ff00ff"/>
<circle cx="115.25" cy="82.74" r="1.1" fill="#ff00ff"/>
<circle cx="134" cy="73" r="1.1" fill="#ff00ff"/>
<circle cx="135.01" cy="53" r="1.2" fill="#ff00ff"/>
<circle cx="115.25" cy="82.75" r="1.1" fill="#ff00ff"/>
<circle cx="134" cy="73" r="1.1" fill="#ff00ff"/>
<circle cx="135" cy="53" r="1.2" fill="#ff00ff"/>
<polyline points="93.5,74.5 115.2,62.9 127.5,47.1 133.5,28.1 132.2,15" fill="none" stroke="#ff1010" stroke-width="0.6" />
<polyline points="93.41,76.28 112.5,65.2 121,47.25 122.75,27.5 121,14.5" fill="none" stroke="#ff1010" stroke-width="0.6" />
<polyline points="93.34,77.66 109.7,65.75 114.6,46.9 113.75,26.9 113.2,14" fill="none" stroke="#ff1010" stroke-width="0.6" />
<polyline points="93.28,78.71 106.2,65.9 109,46.25 107.9,26.5 107,13.7" fill="none" stroke="#ff1010" stroke-width="0.6" />
<polyline points="93.24,79.53 103.5,65.5 104.75,45.9 102.5,26.25 102.2,13.5" fill="none" stroke="#ff1010" stroke-width="0.6" />
<polyline points="93.21,80.15 101.4,65 101.5,45.25 98.5,26 98.54,13.2" fill="none" stroke="#ff1010" stroke-width="0.6" />
<polyline points="93.18,80.63 99.8,64.6 98.75,44.75 95.39,25.72 95.73,12.97" fill="none" stroke="#ff1010" stroke-width="0.6" />
<polyline points="93.16,81.01 98.58,64.21 96.74,44.46 93,25.51 93.56,12.79" fill="none" stroke="#ff1010" stroke-width="0.6" />
<polyline points="93.15,81.29 97.64,63.91 95.19,44.24 91.16,25.35 91.89,12.66" fill="none" stroke="#ff1010" stroke-width="0.6" />
<polyline points="93.14,81.51 96.92,63.68 93.99,44.07 89.75,25.22 90.6,12.55" fill="none" stroke="#ff1010" stroke-width="0.6" />
<polyline points="93.13,81.68 96.36,63.5 93.08,43.94 88.65,25.12 89.61,12.47" fill="none" stroke="#ff1010" stroke-width="0.6" />
<polyline points="93.12,81.81 95.93,63.36 92.37,43.84 87.81,25.05 88.85,12.41" fill="none" stroke="#ff1010" stroke-width="0.6" />
<polyline points="93.12,81.91 95.6,63.25 91.82,43.76 87.17,24.99 88.26,12.36" fill="none" stroke="#ff1010" stroke-width="0.6" />
<polyline points="93.11,81.99 95.35,63.17 91.4,43.7 86.67,24.95 87.81,12.32" fill="none" stroke="#ff1010" stroke-width="0.6" />
<polyline points="93.11,82.05 95.15,63.11 91.08,43.65 86.28,24.91 87.46,12.3" fill="none" stroke="#ff1010" stroke-width="0.6" />
<polyline points="93.11,82.1 95,63.06 90.83,43.62 85.99,24.89 87.2,12.27" fill="none" stroke="#ff1010" stroke-width="0.6" />
<polyline points="93.11,82.13 94.89,63.02 90.64,43.59 85.76,24.87 86.99,12.26" fill="none" stroke="#ff1010" stroke-width="0.6" />
<polyline points="93.1,82.16 94.8,63 90.49,43.57 85.59,24.85 86.83,12.24" fill="none" stroke="#ff1010" stroke-width="0.6" />
<polyline points="93.1,82.18 94.73,62.97 90.38,43.55 85.45,24.84 86.71,12.23" fill="none" stroke="#ff1010" stroke-width="0.6" />
<polyline points="93.1,82.2 94.68,62.96 90.29,43.54 85.35,24.83 86.62,12.23" fill="none" stroke="#ff1010" stroke-width="0.6" />
<polyline points="93.1,82.21 94.64,62.94 90.23,43.53 85.27,24.82 86.54,12.22" fill="none" stroke="#ff1010" stroke-width="0.6" />
<polyline points="93.1,82.22 94.61,62.93 90.17,43.52 85.21,24.82 86.49,12.22" fill="none" stroke="#ff1010" stroke-width="0.6" />
<polyline points="93.1,82.23 94.58,62.93 90.13,43.52 85.16,24.81 86.44,12.21" fill="none" stroke="#ff1010" stroke-width="0.6" />
<polyline points="93.1,82.23 94.56,62.92 90.1,43.51 85.12,24.81 86.41,12.21" fill="none" stroke="#ff1010" stroke-width="0.6" />
<polyline points="93.1,82.24 94.55,62.92 90.08,43.51 85.09,24.81 86.39,12.21" fill="none" stroke="#ff1010" stroke-width="0.6" />
<polyline points="93.1,82.24 94.54,62.91 90.06,43.51 85.07,24.81 86.37,12.21" fill="none" stroke="#ff1010" stroke-width="0.6" />
<polyline points="93.1,82.24 94.53,62.91 90.05,43.51 85.06,24.8 86.35,12.2" fill="none" stroke="#ff1010" stroke-width="0.6" />
<polyline points="93.1,82.24 94.52,62.91 90.04,43.51 85.04,24.8 86.34,12.2" fill="none" stroke="#ff1010" stroke-width="0.6" />
<polyline points="93.1,82.24 94.52,62.91 90.03,43.5 85.03,24.8 86.33,12.2" fill="none" stroke="#ff1010" stroke-width="0.6" />
<polyline points="93.1,82.25 94.51,62.9 90.02,43.5 85.03,24.8 86.32,12.2" fill="none" stroke="#ff1010" stroke-width="0.6" />
<polyline points="93.1,82.25 94.5,62.9 90,43.5 85,24.8 86.3,12.2" fill="none" stroke="#ff1010" stroke-width="0.6" />
<line x1="85.8" y1="11.6" x2="96.5" y2="24.7" stroke="#1f8a3a" stroke-width="0.75" />
<line x1="96.5" y1="24.7" x2="148.9" y2="88.8" stroke="#00a040" stroke-width="1.1" />
<line x1="85.8" y1="11.6" x2="136.3" y2="39.8" stroke="#00a040" stroke-width="1.1" />
<line x1="140.5" y1="56" x2="148.9" y2="88.8" stroke="#00a040" stroke-width="1.1" />
<circle cx="115.2" cy="62.9" r="0.9" fill="#000"/>
<circle cx="127.5" cy="47.1" r="0.9" fill="#000"/>
<circle cx="133.5" cy="28.1" r="0.9" fill="#000"/>
<circle cx="112.5" cy="65.2" r="0.9" fill="#000"/>
<circle cx="121" cy="47.25" r="0.9" fill="#000"/>
<circle cx="122.75" cy="27.5" r="0.9" fill="#000"/>
<circle cx="109.7" cy="65.75" r="0.9" fill="#000"/>
<circle cx="114.6" cy="46.9" r="0.9" fill="#000"/>
<circle cx="113.75" cy="26.9" r="0.9" fill="#000"/>
<circle cx="106.2" cy="65.9" r="0.9" fill="#000"/>
<circle cx="109" cy="46.25" r="0.9" fill="#000"/>
<circle cx="107.9" cy="26.5" r="0.9" fill="#000"/>
<circle cx="103.5" cy="65.5" r="0.9" fill="#000"/>
<circle cx="104.75" cy="45.9" r="0.9" fill="#000"/>
<circle cx="102.5" cy="26.25" r="0.9" fill="#000"/>
<circle cx="101.4" cy="65" r="0.9" fill="#000"/>
<circle cx="101.5" cy="45.25" r="0.9" fill="#000"/>
<circle cx="98.5" cy="26" r="0.9" fill="#000"/>
<circle cx="99.8" cy="64.6" r="0.9" fill="#000"/>
<circle cx="98.75" cy="44.75" r="0.9" fill="#000"/>
<circle cx="95.39" cy="25.72" r="0.9" fill="#000"/>
<circle cx="98.58" cy="64.21" r="0.9" fill="#000"/>
<circle cx="96.74" cy="44.46" r="0.9" fill="#000"/>
<circle cx="93" cy="25.51" r="0.9" fill="#000"/>
<circle cx="97.64" cy="63.91" r="0.9" fill="#000"/>
<circle cx="95.19" cy="44.24" r="0.9" fill="#000"/>
<circle cx="91.16" cy="25.35" r="0.9" fill="#000"/>
<circle cx="96.92" cy="63.68" r="0.9" fill="#000"/>
<circle cx="93.99" cy="44.07" r="0.9" fill="#000"/>
<circle cx="89.75" cy="25.22" r="0.9" fill="#000"/>
<circle cx="96.36" cy="63.5" r="0.9" fill="#000"/>
<circle cx="93.08" cy="43.94" r="0.9" fill="#000"/>
<circle cx="88.65" cy="25.12" r="0.9" fill="#000"/>
<circle cx="95.93" cy="63.36" r="0.9" fill="#000"/>
<circle cx="92.37" cy="43.84" r="0.9" fill="#000"/>
<circle cx="87.81" cy="25.05" r="0.9" fill="#000"/>
<circle cx="95.6" cy="63.25" r="0.9" fill="#000"/>
<circle cx="91.82" cy="43.76" r="0.9" fill="#000"/>
<circle cx="87.17" cy="24.99" r="0.9" fill="#000"/>
<circle cx="95.35" cy="63.17" r="0.9" fill="#000"/>
<circle cx="91.4" cy="43.7" r="0.9" fill="#000"/>
<circle cx="86.67" cy="24.95" r="0.9" fill="#000"/>
<circle cx="95.15" cy="63.11" r="0.9" fill="#000"/>
<circle cx="91.08" cy="43.65" r="0.9" fill="#000"/>
<circle cx="86.28" cy="24.91" r="0.9" fill="#000"/>
<circle cx="95" cy="63.06" r="0.9" fill="#000"/>
<circle cx="90.83" cy="43.62" r="0.9" fill="#000"/>
<circle cx="85.99" cy="24.89" r="0.9" fill="#000"/>
<circle cx="94.89" cy="63.02" r="0.9" fill="#000"/>
<circle cx="90.64" cy="43.59" r="0.9" fill="#000"/>
<circle cx="85.76" cy="24.87" r="0.9" fill="#000"/>
<circle cx="94.8" cy="63" r="0.9" fill="#000"/>
<circle cx="90.49" cy="43.57" r="0.9" fill="#000"/>
<circle cx="85.59" cy="24.85" r="0.9" fill="#000"/>
<circle cx="94.73" cy="62.97" r="0.9" fill="#000"/>
<circle cx="90.38" cy="43.55" r="0.9" fill="#000"/>
<circle cx="85.45" cy="24.84" r="0.9" fill="#000"/>
<circle cx="94.68" cy="62.96" r="0.9" fill="#000"/>
<circle cx="90.29" cy="43.54" r="0.9" fill="#000"/>
<circle cx="85.35" cy="24.83" r="0.9" fill="#000"/>
<circle cx="94.64" cy="62.94" r="0.9" fill="#000"/>
<circle cx="90.23" cy="43.53" r="0.9" fill="#000"/>
<circle cx="85.27" cy="24.82" r="0.9" fill="#000"/>
<circle cx="94.61" cy="62.93" r="0.9" fill="#000"/>
<circle cx="90.17" cy="43.52" r="0.9" fill="#000"/>
<circle cx="85.21" cy="24.82" r="0.9" fill="#000"/>
<circle cx="94.58" cy="62.93" r="0.9" fill="#000"/>
<circle cx="90.13" cy="43.52" r="0.9" fill="#000"/>
<circle cx="85.16" cy="24.81" r="0.9" fill="#000"/>
<circle cx="94.56" cy="62.92" r="0.9" fill="#000"/>
<circle cx="90.1" cy="43.51" r="0.9" fill="#000"/>
<circle cx="85.12" cy="24.81" r="0.9" fill="#000"/>
<circle cx="94.55" cy="62.92" r="0.9" fill="#000"/>
<circle cx="90.08" cy="43.51" r="0.9" fill="#000"/>
<circle cx="85.09" cy="24.81" r="0.9" fill="#000"/>
<circle cx="94.54" cy="62.91" r="0.9" fill="#000"/>
<circle cx="90.06" cy="43.51" r="0.9" fill="#000"/>
<circle cx="85.07" cy="24.81" r="0.9" fill="#000"/>
<circle cx="94.53" cy="62.91" r="0.9" fill="#000"/>
<circle cx="90.05" cy="43.51" r="0.9" fill="#000"/>
<circle cx="85.06" cy="24.8" r="0.9" fill="#000"/>
<circle cx="94.52" cy="62.91" r="0.9" fill="#000"/>
<circle cx="90.04" cy="43.51" r="0.9" fill="#000"/>
<circle cx="85.04" cy="24.8" r="0.9" fill="#000"/>
<circle cx="94.52" cy="62.91" r="0.9" fill="#000"/>
<circle cx="90.03" cy="43.5" r="0.9" fill="#000"/>
<circle cx="85.03" cy="24.8" r="0.9" fill="#000"/>
<circle cx="94.51" cy="62.9" r="0.9" fill="#000"/>
<circle cx="90.02" cy="43.5" r="0.9" fill="#000"/>
<circle cx="85.03" cy="24.8" r="0.9" fill="#000"/>
<circle cx="94.5" cy="62.9" r="0.9" fill="#000"/>
<circle cx="90" cy="43.5" r="0.9" fill="#000"/>
<circle cx="85" cy="24.8" r="0.9" fill="#000"/>
<circle cx="93.1" cy="82.25" r="1.2" fill="#ff00ff"/>
<circle cx="85.8" cy="11.6" r="1.1" fill="#cfe0ff" stroke="#3a78d8" stroke-width="0.7"/>
<circle cx="136.3" cy="39.8" r="1.0" fill="#b09020"/>
<circle cx="148.9" cy="88.8" r="1.0" fill="#d06020"/>
<text x="43.6" y="31.6" font-size="9" text-anchor="start" fill="#000">Arm1</text>
<line x1="63" y1="34" x2="76.84" y2="36.12" stroke="#111" stroke-width="0.7" />
<polygon points="80,36.6 76.64,37.4 77.03,34.83" fill="#111"/>
<text x="26" y="52.3" font-size="9.15" text-anchor="start" fill="#000">Specified object</text>
<line x1="63" y1="53" x2="123.44" y2="62.79" stroke="#111" stroke-width="0.6" />
<polygon points="126.6,63.3 123.23,64.07 123.65,61.51" fill="#111"/>
<text x="56.7" y="113.9" font-size="9.3" text-anchor="start" fill="#000">Arm2</text>
<line x1="79.5" y1="111.8" x2="101.3" y2="106.2" stroke="#111" stroke-width="0.7" />
<polygon points="104.4,105.4 101.62,107.46 100.98,104.94" fill="#111"/>
<text x="154.8" y="68" font-size="9.2" text-anchor="start" fill="#000">Arm3</text>
<line x1="154.6" y1="61" x2="149.67" y2="57.76" stroke="#111" stroke-width="0.7" />
<polygon points="147,56 150.39,56.67 148.96,58.84" fill="#111"/>
<text x="64.8" y="13" font-size="9" font-weight="bold" fill="#000">t<tspan font-size="4.6" dy="0.6" font-weight="normal">1</tspan></text>
<line x1="71.2" y1="9.8" x2="81.02" y2="11.01" stroke="#111" stroke-width="0.7" />
<polygon points="84.2,11.4 80.87,12.3 81.18,9.72" fill="#111"/>
<text x="146.5" y="28" font-size="9" font-weight="bold" fill="#000">t<tspan font-size="4.6" dy="0.6" font-weight="normal">2</tspan></text>
<line x1="145.5" y1="29.8" x2="138.97" y2="36.85" stroke="#111" stroke-width="0.7" />
<polygon points="136.8,39.2 138.02,35.97 139.93,37.73" fill="#111"/>
<text x="164.5" y="86.5" font-size="9" font-weight="bold" fill="#000">t<tspan font-size="4.6" dy="0.6" font-weight="normal">3</tspan></text>
<line x1="163.75" y1="84.4" x2="153.46" y2="87.56" stroke="#111" stroke-width="0.7" />
<polygon points="150.4,88.5 153.08,86.32 153.84,88.8" fill="#111"/>
<line x1="403.4" y1="11.6" x2="403.4" y2="117.5" stroke="#6e6e6e" stroke-width="0.8" />
<line x1="402.9" y1="117" x2="541.4" y2="117" stroke="#6e6e6e" stroke-width="0.8" />
<line x1="403.4" y1="117" x2="403.4" y2="115.4" stroke="#6e6e6e" stroke-width="0.6400000000000001" />
<text x="403.4" y="126.3" font-size="7.8" text-anchor="middle" fill="#0a0a0a">0</text>
<line x1="431" y1="117" x2="431" y2="115.4" stroke="#6e6e6e" stroke-width="0.6400000000000001" />
<text x="431" y="126.3" font-size="7.8" text-anchor="middle" fill="#0a0a0a">1</text>
<line x1="458.6" y1="117" x2="458.6" y2="115.4" stroke="#6e6e6e" stroke-width="0.6400000000000001" />
<text x="458.6" y="126.3" font-size="7.8" text-anchor="middle" fill="#0a0a0a">2</text>
<line x1="486.2" y1="117" x2="486.2" y2="115.4" stroke="#6e6e6e" stroke-width="0.6400000000000001" />
<text x="486.2" y="126.3" font-size="7.8" text-anchor="middle" fill="#0a0a0a">3</text>
<line x1="513.8" y1="117" x2="513.8" y2="115.4" stroke="#6e6e6e" stroke-width="0.6400000000000001" />
<text x="513.8" y="126.3" font-size="7.8" text-anchor="middle" fill="#0a0a0a">4</text>
<line x1="541.4" y1="117" x2="541.4" y2="115.4" stroke="#6e6e6e" stroke-width="0.6400000000000001" />
<text x="541.4" y="126.3" font-size="7.8" text-anchor="middle" fill="#0a0a0a">5</text>
<line x1="403.4" y1="117" x2="405" y2="117" stroke="#6e6e6e" stroke-width="0.6400000000000001" />
<text x="401" y="119.03" font-size="7.8" text-anchor="end" fill="#0a0a0a">0</text>
<line x1="403.4" y1="99.43" x2="405" y2="99.43" stroke="#6e6e6e" stroke-width="0.6400000000000001" />
<text x="401" y="101.46" font-size="7.8" text-anchor="end" fill="#0a0a0a" textLength="8.6" lengthAdjust="spacingAndGlyphs">0.5</text>
<line x1="403.4" y1="81.87" x2="405" y2="81.87" stroke="#6e6e6e" stroke-width="0.6400000000000001" />
<text x="401" y="83.89" font-size="7.8" text-anchor="end" fill="#0a0a0a">1</text>
<line x1="403.4" y1="64.3" x2="405" y2="64.3" stroke="#6e6e6e" stroke-width="0.6400000000000001" />
<text x="401" y="66.33" font-size="7.8" text-anchor="end" fill="#0a0a0a" textLength="8.6" lengthAdjust="spacingAndGlyphs">1.5</text>
<line x1="403.4" y1="46.73" x2="405" y2="46.73" stroke="#6e6e6e" stroke-width="0.6400000000000001" />
<text x="401" y="48.76" font-size="7.8" text-anchor="end" fill="#0a0a0a">2</text>
<line x1="403.4" y1="29.17" x2="405" y2="29.17" stroke="#6e6e6e" stroke-width="0.6400000000000001" />
<text x="401" y="31.19" font-size="7.8" text-anchor="end" fill="#0a0a0a" textLength="8.6" lengthAdjust="spacingAndGlyphs">2.5</text>
<line x1="403.4" y1="11.6" x2="405" y2="11.6" stroke="#6e6e6e" stroke-width="0.6400000000000001" />
<text x="401" y="13.63" font-size="7.8" text-anchor="end" fill="#0a0a0a">3</text>
<text x="474.7" y="133.9" font-size="8.3" text-anchor="middle" fill="#0a0a0a" textLength="14.2" lengthAdjust="spacingAndGlyphs">T (s)</text>
<text transform="translate(388.3,64.3) rotate(-90)" font-size="7.75" font-weight="bold" text-anchor="middle" fill="#0a0a0a">EE position velocity (m/s)</text>
<polyline points="403.4,117 403.4,116.67 403.41,115.68 403.43,114.04 403.46,111.73 403.49,108.77 403.52,105.14 403.57,100.86 403.62,95.92 403.68,90.32 403.75,84.06 403.82,77.15 403.9,69.57 403.98,61.34 404.08,52.44 404.18,42.89 404.28,32.68 404.4,21.81 404.52,11.68 404.65,12.42 404.78,13.2 404.92,14.01 405.07,14.85 405.23,15.72 405.39,16.63 405.56,17.56 405.73,18.52 405.92,19.51 406.1,20.53 406.3,21.58 406.5,22.64 406.72,23.74 406.93,24.85 407.16,25.99 407.39,27.14 407.63,28.32 407.87,29.51 408.12,30.72 408.38,31.95 408.65,33.19 408.92,34.44 409.2,35.71 409.49,36.99 409.78,38.27 410.08,39.57 410.39,40.87 410.7,42.19 411.02,43.5 411.35,44.82 411.68,46.15 412.02,47.47 412.37,48.8 412.73,50.13 413.09,51.45 413.46,52.78 413.84,54.1 414.22,55.42 414.61,56.73 415.01,58.04 415.41,59.34 415.82,60.64 416.24,61.92 416.66,63.2 417.09,64.47 417.53,65.73 417.98,66.97 418.43,68.21 418.89,69.43 419.35,70.64 419.83,71.84 420.3,73.02 420.79,74.19 421.28,75.34 421.79,76.48 422.29,77.6 422.81,78.7 423.33,79.79 423.86,80.86 424.39,81.92 424.93,82.95 425.48,83.97 426.04,84.97 426.6,85.95 427.17,86.91 427.74,87.86 428.33,88.78 428.92,89.69 429.51,90.57 430.12,91.44 430.73,92.29 431.34,93.12 431.97,93.93 432.6,94.72 433.24,95.5 433.88,96.25 434.54,96.98 435.2,97.7 435.86,98.4 436.53,99.08 437.21,99.74 437.9,100.38 438.59,101.01 439.29,101.62 440,102.21 440.72,102.78 441.44,103.34 442.16,103.87 442.9,104.4 443.64,104.9 444.39,105.39 445.14,105.87 445.91,106.33 446.68,106.77 447.45,107.2 448.24,107.62 449.03,108.02 449.82,108.41 450.63,108.78 451.44,109.14 452.26,109.49 453.08,109.82 453.91,110.15 454.75,110.46 455.6,110.76 456.45,111.04 457.31,111.32 458.17,111.59 459.05,111.84 459.92,112.09 460.81,112.32 461.7,112.55 462.61,112.76 463.51,112.97 464.43,113.17 465.35,113.36 466.28,113.54 467.21,113.72 468.15,113.88 469.1,114.04 470.06,114.19 471.02,114.34 471.99,114.48 472.97,114.61 473.95,114.74 474.94,114.86 475.94,114.97 476.94,115.08 477.95,115.19 478.97,115.29 479.99,115.38 481.02,115.47 482.06,115.56 483.11,115.64 484.16,115.71 485.22,115.79 486.29,115.86 487.36,115.92 488.44,115.99 489.53,116.04 490.62,116.1 491.72,116.15 492.83,116.2 493.94,116.25 495.06,116.3 496.19,116.34 497.33,116.38 498.47,116.42 499.62,116.45 500.77,116.49 501.94,116.52 503.1,116.55 504.28,116.58 505.46,116.6 506.66,116.63 507.85,116.65 509.06,116.68 510.27,116.7 511.49,116.72 512.71,116.73 513.94,116.75 515.18,116.77 516.43,116.78 517.68,116.8 518.94,116.81 520.2,116.82 521.48,116.84 522.76,116.85 524.04,116.86 525.34,116.87 526.64,116.88 527.94,116.89 529.26,116.89 530.58,116.9 531.91,116.91 533.24,116.91 534.59,116.92 535.94,116.93 537.29,116.93 538.65,116.94 540.02,116.94 541.4,116.95" fill="none" stroke="#0072BD" stroke-width="1.4"  stroke-linejoin="round"/>
<polyline points="403.4,117 403.4,116.82 403.41,116.3 403.43,115.42 403.46,114.19 403.49,112.61 403.52,110.68 403.57,108.39 403.62,105.76 403.68,102.77 403.75,99.43 403.82,95.74 403.9,91.7 403.98,87.31 404.08,82.57 404.18,77.47 404.28,72.03 404.4,66.23 404.52,60.84 404.65,61.29 404.78,61.76 404.92,62.26 405.07,62.77 405.23,63.3 405.39,63.86 405.56,64.42 405.73,65.01 405.92,65.61 406.1,66.23 406.3,66.86 406.5,67.5 406.72,68.16 406.93,68.83 407.16,69.51 407.39,70.2 407.63,70.91 407.87,71.62 408.12,72.34 408.38,73.07 408.65,73.8 408.92,74.54 409.2,75.29 409.49,76.04 409.78,76.8 410.08,77.56 410.39,78.32 410.7,79.09 411.02,79.85 411.35,80.62 411.68,81.38 412.02,82.15 412.37,82.91 412.73,83.67 413.09,84.43 413.46,85.19 413.84,85.94 414.22,86.69 414.61,87.43 415.01,88.16 415.41,88.89 415.82,89.62 416.24,90.34 416.66,91.05 417.09,91.75 417.53,92.44 417.98,93.13 418.43,93.8 418.89,94.47 419.35,95.13 419.83,95.77 420.3,96.41 420.79,97.04 421.28,97.65 421.79,98.26 422.29,98.85 422.81,99.44 423.33,100.01 423.86,100.57 424.39,101.12 424.93,101.66 425.48,102.18 426.04,102.7 426.6,103.2 427.17,103.69 427.74,104.17 428.33,104.63 428.92,105.09 429.51,105.53 430.12,105.96 430.73,106.39 431.34,106.79 431.97,107.19 432.6,107.58 433.24,107.95 433.88,108.31 434.54,108.67 435.2,109.01 435.86,109.34 436.53,109.66 437.21,109.97 437.9,110.27 438.59,110.56 439.29,110.84 440,111.11 440.72,111.37 441.44,111.63 442.16,111.87 442.9,112.1 443.64,112.33 444.39,112.55 445.14,112.75 445.91,112.96 446.68,113.15 447.45,113.33 448.24,113.51 449.03,113.68 449.82,113.85 450.63,114 451.44,114.15 452.26,114.3 453.08,114.44 453.91,114.57 454.75,114.69 455.6,114.82 456.45,114.93 457.31,115.04 458.17,115.15 459.05,115.25 459.92,115.34 460.81,115.43 461.7,115.52 462.61,115.6 463.51,115.68 464.43,115.75 465.35,115.82 466.28,115.89 467.21,115.96 468.15,116.02 469.1,116.07 470.06,116.13 471.02,116.18 471.99,116.23 472.97,116.28 473.95,116.32 474.94,116.36 475.94,116.4 476.94,116.44 477.95,116.47 478.97,116.51 479.99,116.54 481.02,116.57 482.06,116.59 483.11,116.62 484.16,116.64 485.22,116.67 486.29,116.69 487.36,116.71 488.44,116.73 489.53,116.75 490.62,116.76 491.72,116.78 492.83,116.8 493.94,116.81 495.06,116.82 496.19,116.83 497.33,116.85 498.47,116.86 499.62,116.87 500.77,116.88 501.94,116.89 503.1,116.89 504.28,116.9 505.46,116.91 506.66,116.91 507.85,116.92 509.06,116.93 510.27,116.93 511.49,116.94 512.71,116.94 513.94,116.95 515.18,116.95 516.43,116.95 517.68,116.96 518.94,116.96 520.2,116.96 521.48,116.97 522.76,116.97 524.04,116.97 525.34,116.97 526.64,116.98 527.94,116.98 529.26,116.98 530.58,116.98 531.91,116.98 533.24,116.98 534.59,116.99 535.94,116.99 537.29,116.99 538.65,116.99 540.02,116.99 541.4,116.99" fill="none" stroke="#EDB120" stroke-width="1.1"  stroke-linejoin="round"/>
<polyline points="403.4,117 403.4,116.79 403.41,116.14 403.43,115.07 403.46,113.57 403.49,111.65 403.52,109.29 403.57,106.51 403.62,103.3 403.68,99.66 403.75,95.59 403.82,91.09 403.9,86.17 403.98,80.82 404.08,75.04 404.18,68.83 404.28,62.19 404.4,55.13 404.52,48.55 404.65,49.05 404.78,49.59 404.92,50.14 405.07,50.72 405.23,51.32 405.39,51.94 405.56,52.58 405.73,53.23 405.92,53.91 406.1,54.61 406.3,55.32 406.5,56.05 406.72,56.8 406.93,57.56 407.16,58.33 407.39,59.12 407.63,59.92 407.87,60.73 408.12,61.55 408.38,62.38 408.65,63.22 408.92,64.07 409.2,64.93 409.49,65.79 409.78,66.66 410.08,67.54 410.39,68.42 410.7,69.3 411.02,70.19 411.35,71.08 411.68,71.97 412.02,72.86 412.37,73.75 412.73,74.63 413.09,75.52 413.46,76.41 413.84,77.29 414.22,78.17 414.61,79.04 415.01,79.91 415.41,80.78 415.82,81.64 416.24,82.49 416.66,83.33 417.09,84.17 417.53,85 417.98,85.82 418.43,86.64 418.89,87.44 419.35,88.23 419.83,89.02 420.3,89.79 420.79,90.55 421.28,91.3 421.79,92.04 422.29,92.77 422.81,93.49 423.33,94.2 423.86,94.89 424.39,95.57 424.93,96.24 425.48,96.89 426.04,97.53 426.6,98.16 427.17,98.78 427.74,99.38 428.33,99.97 428.92,100.55 429.51,101.11 430.12,101.66 430.73,102.2 431.34,102.73 431.97,103.24 432.6,103.74 433.24,104.22 433.88,104.69 434.54,105.15 435.2,105.6 435.86,106.04 436.53,106.46 437.21,106.87 437.9,107.27 438.59,107.65 439.29,108.03 440,108.39 440.72,108.74 441.44,109.09 442.16,109.41 442.9,109.73 443.64,110.04 444.39,110.34 445.14,110.63 445.91,110.91 446.68,111.17 447.45,111.43 448.24,111.68 449.03,111.92 449.82,112.15 450.63,112.37 451.44,112.59 452.26,112.79 453.08,112.99 453.91,113.18 454.75,113.36 455.6,113.54 456.45,113.71 457.31,113.87 458.17,114.02 459.05,114.17 459.92,114.31 460.81,114.45 461.7,114.58 462.61,114.7 463.51,114.82 464.43,114.93 465.35,115.04 466.28,115.15 467.21,115.25 468.15,115.34 469.1,115.43 470.06,115.51 471.02,115.6 471.99,115.67 472.97,115.75 473.95,115.82 474.94,115.88 475.94,115.95 476.94,116.01 477.95,116.06 478.97,116.12 479.99,116.17 481.02,116.22 482.06,116.26 483.11,116.31 484.16,116.35 485.22,116.39 486.29,116.42 487.36,116.46 488.44,116.49 489.53,116.52 490.62,116.55 491.72,116.58 492.83,116.61 493.94,116.63 495.06,116.66 496.19,116.68 497.33,116.7 498.47,116.72 499.62,116.74 500.77,116.75 501.94,116.77 503.1,116.78 504.28,116.8 505.46,116.81 506.66,116.82 507.85,116.84 509.06,116.85 510.27,116.86 511.49,116.87 512.71,116.88 513.94,116.89 515.18,116.89 516.43,116.9 517.68,116.91 518.94,116.91 520.2,116.92 521.48,116.93 522.76,116.93 524.04,116.94 525.34,116.94 526.64,116.95 527.94,116.95 529.26,116.95 530.58,116.96 531.91,116.96 533.24,116.96 534.59,116.97 535.94,116.97 537.29,116.97 538.65,116.97 540.02,116.98 541.4,116.98" fill="none" stroke="#D95319" stroke-width="1.1" stroke-dasharray="2 1.8" stroke-linejoin="round"/>
<rect x="503" y="18" width="32" height="20.6" fill="#fff" stroke="#666" stroke-width="0.8"/>
<line x1="505.6" y1="21.6" x2="515.6" y2="21.6" stroke="#0072BD" stroke-width="1.3" />
<line x1="505.6" y1="28.4" x2="515.6" y2="28.4" stroke="#D95319" stroke-width="1.0" stroke-dasharray="1.6 1.6"/>
<line x1="505.6" y1="35" x2="515.6" y2="35" stroke="#EDB120" stroke-width="1.0" />
<text x="517" y="24.1" font-size="7.3" text-anchor="start" fill="#000" textLength="15.9" lengthAdjust="spacingAndGlyphs">Arm1</text>
<text x="517" y="30.9" font-size="7.3" text-anchor="start" fill="#000" textLength="15.9" lengthAdjust="spacingAndGlyphs">Arm2</text>
<text x="517" y="37.5" font-size="7.3" text-anchor="start" fill="#000" textLength="15.9" lengthAdjust="spacingAndGlyphs">Arm3</text>
<line x1="33.8" y1="174.4" x2="33.8" y2="277.3" stroke="#6e6e6e" stroke-width="0.8" />
<line x1="33.3" y1="276.8" x2="170.8" y2="276.8" stroke="#6e6e6e" stroke-width="0.8" />
<line x1="33.8" y1="276.8" x2="33.8" y2="275.2" stroke="#6e6e6e" stroke-width="0.6400000000000001" />
<text x="33.8" y="285.7" font-size="7.8" text-anchor="middle" fill="#0a0a0a">0</text>
<line x1="61.2" y1="276.8" x2="61.2" y2="275.2" stroke="#6e6e6e" stroke-width="0.6400000000000001" />
<text x="61.2" y="285.7" font-size="7.8" text-anchor="middle" fill="#0a0a0a">1</text>
<line x1="88.6" y1="276.8" x2="88.6" y2="275.2" stroke="#6e6e6e" stroke-width="0.6400000000000001" />
<text x="88.6" y="285.7" font-size="7.8" text-anchor="middle" fill="#0a0a0a">2</text>
<line x1="116" y1="276.8" x2="116" y2="275.2" stroke="#6e6e6e" stroke-width="0.6400000000000001" />
<text x="116" y="285.7" font-size="7.8" text-anchor="middle" fill="#0a0a0a">3</text>
<line x1="143.4" y1="276.8" x2="143.4" y2="275.2" stroke="#6e6e6e" stroke-width="0.6400000000000001" />
<text x="143.4" y="285.7" font-size="7.8" text-anchor="middle" fill="#0a0a0a">4</text>
<line x1="170.8" y1="276.8" x2="170.8" y2="275.2" stroke="#6e6e6e" stroke-width="0.6400000000000001" />
<text x="170.8" y="285.7" font-size="7.8" text-anchor="middle" fill="#0a0a0a">5</text>
<line x1="33.8" y1="276.8" x2="35.4" y2="276.8" stroke="#6e6e6e" stroke-width="0.6400000000000001" />
<text x="31.2" y="280.39" font-size="7.8" text-anchor="end" fill="#0a0a0a">0</text>
<line x1="33.8" y1="259.73" x2="35.4" y2="259.73" stroke="#6e6e6e" stroke-width="0.6400000000000001" />
<text x="31.2" y="263.32" font-size="7.8" text-anchor="end" fill="#0a0a0a" textLength="8.6" lengthAdjust="spacingAndGlyphs">0.5</text>
<line x1="33.8" y1="242.67" x2="35.4" y2="242.67" stroke="#6e6e6e" stroke-width="0.6400000000000001" />
<text x="31.2" y="246.25" font-size="7.8" text-anchor="end" fill="#0a0a0a">1</text>
<line x1="33.8" y1="225.6" x2="35.4" y2="225.6" stroke="#6e6e6e" stroke-width="0.6400000000000001" />
<text x="31.2" y="229.19" font-size="7.8" text-anchor="end" fill="#0a0a0a" textLength="8.6" lengthAdjust="spacingAndGlyphs">1.5</text>
<line x1="33.8" y1="208.53" x2="35.4" y2="208.53" stroke="#6e6e6e" stroke-width="0.6400000000000001" />
<text x="31.2" y="212.12" font-size="7.8" text-anchor="end" fill="#0a0a0a">2</text>
<line x1="33.8" y1="191.47" x2="35.4" y2="191.47" stroke="#6e6e6e" stroke-width="0.6400000000000001" />
<text x="31.2" y="195.05" font-size="7.8" text-anchor="end" fill="#0a0a0a" textLength="8.6" lengthAdjust="spacingAndGlyphs">2.5</text>
<line x1="33.8" y1="174.4" x2="35.4" y2="174.4" stroke="#6e6e6e" stroke-width="0.6400000000000001" />
<text x="31.2" y="177.99" font-size="7.8" text-anchor="end" fill="#0a0a0a">3</text>
<text x="100.8" y="292.4" font-size="8.3" text-anchor="middle" fill="#0a0a0a" textLength="14.2" lengthAdjust="spacingAndGlyphs">T (s)</text>
<text transform="translate(18.6,224.5) rotate(-90)" font-size="7.4" font-weight="bold" text-anchor="middle" fill="#0a0a0a">EE attitude velocity (rad/s)</text>
<polyline points="33.8,276.8 33.8,276.78 33.81,276.71 33.83,276.61 33.85,276.46 33.89,276.27 33.92,276.03 33.97,275.75 34.02,275.43 34.08,275.07 34.14,274.67 34.21,274.22 34.29,273.73 34.38,273.19 34.47,272.62 34.57,272 34.68,271.34 34.79,270.63 34.91,269.98 35.04,270.01 35.17,270.04 35.31,270.08 35.46,270.12 35.61,270.16 35.77,270.2 35.94,270.24 36.12,270.29 36.3,270.33 36.49,270.38 36.68,270.43 36.88,270.47 37.09,270.53 37.31,270.58 37.53,270.63 37.76,270.68 38,270.74 38.24,270.8 38.49,270.85 38.75,270.91 39.01,270.97 39.28,271.03 39.56,271.09 39.84,271.15 40.13,271.22 40.43,271.28 40.74,271.35 41.05,271.41 41.37,271.48 41.69,271.54 42.02,271.61 42.36,271.68 42.71,271.74 43.06,271.81 43.42,271.88 43.79,271.95 44.16,272.02 44.54,272.09 44.93,272.16 45.32,272.23 45.72,272.3 46.13,272.37 46.54,272.44 46.97,272.51 47.39,272.58 47.83,272.65 48.27,272.72 48.72,272.79 49.17,272.86 49.64,272.93 50.11,272.99 50.58,273.06 51.07,273.13 51.56,273.2 52.05,273.27 52.56,273.34 53.07,273.4 53.58,273.47 54.11,273.54 54.64,273.6 55.18,273.67 55.72,273.73 56.27,273.8 56.83,273.86 57.39,273.92 57.97,273.99 58.55,274.05 59.13,274.11 59.72,274.17 60.32,274.23 60.93,274.29 61.54,274.35 62.16,274.41 62.79,274.46 63.42,274.52 64.06,274.57 64.71,274.63 65.36,274.68 66.03,274.74 66.69,274.79 67.37,274.84 68.05,274.89 68.74,274.94 69.43,274.99 70.14,275.04 70.84,275.08 71.56,275.13 72.28,275.18 73.01,275.22 73.75,275.27 74.49,275.31 75.24,275.35 76,275.39 76.76,275.43 77.53,275.47 78.31,275.51 79.1,275.55 79.89,275.59 80.68,275.62 81.49,275.66 82.3,275.7 83.12,275.73 83.95,275.76 84.78,275.8 85.62,275.83 86.46,275.86 87.32,275.89 88.18,275.92 89.04,275.95 89.92,275.98 90.8,276 91.68,276.03 92.58,276.06 93.48,276.08 94.38,276.11 95.3,276.13 96.22,276.15 97.15,276.18 98.08,276.2 99.03,276.22 99.97,276.24 100.93,276.26 101.89,276.28 102.86,276.3 103.84,276.32 104.82,276.33 105.81,276.35 106.81,276.37 107.81,276.39 108.82,276.4 109.84,276.42 110.86,276.43 111.89,276.45 112.93,276.46 113.98,276.47 115.03,276.49 116.09,276.5 117.15,276.51 118.22,276.52 119.3,276.53 120.39,276.54 121.48,276.55 122.58,276.56 123.69,276.57 124.8,276.58 125.92,276.59 127.05,276.6 128.18,276.61 129.32,276.62 130.47,276.63 131.62,276.63 132.78,276.64 133.95,276.65 135.13,276.65 136.31,276.66 137.5,276.67 138.69,276.67 139.89,276.68 141.1,276.68 142.32,276.69 143.54,276.69 144.77,276.7 146.01,276.7 147.25,276.71 148.5,276.71 149.76,276.72 151.02,276.72 152.29,276.72 153.57,276.73 154.85,276.73 156.14,276.74 157.44,276.74 158.75,276.74 160.06,276.74 161.38,276.75 162.7,276.75 164.04,276.75 165.37,276.75 166.72,276.76 168.07,276.76 169.43,276.76 170.8,276.76" fill="none" stroke="#0072BD" stroke-width="1.4"  stroke-linejoin="round"/>
<polyline points="33.8,276.8 33.8,276.73 33.81,276.52 33.83,276.18 33.85,275.69 33.89,275.07 33.92,274.3 33.97,273.4 34.02,272.36 34.08,271.18 34.14,269.87 34.21,268.41 34.29,266.82 34.38,265.08 34.47,263.21 34.57,261.2 34.68,259.05 34.79,256.76 34.91,254.63 35.04,254.76 35.17,254.9 35.31,255.04 35.46,255.19 35.61,255.34 35.77,255.51 35.94,255.67 36.12,255.84 36.3,256.02 36.49,256.2 36.68,256.39 36.88,256.58 37.09,256.78 37.31,256.98 37.53,257.19 37.76,257.4 38,257.61 38.24,257.83 38.49,258.05 38.75,258.27 39.01,258.5 39.28,258.73 39.56,258.96 39.84,259.2 40.13,259.43 40.43,259.68 40.74,259.92 41.05,260.16 41.37,260.41 41.69,260.66 42.02,260.91 42.36,261.16 42.71,261.41 43.06,261.66 43.42,261.91 43.79,262.16 44.16,262.42 44.54,262.67 44.93,262.92 45.32,263.18 45.72,263.43 46.13,263.68 46.54,263.94 46.97,264.19 47.39,264.44 47.83,264.69 48.27,264.93 48.72,265.18 49.17,265.43 49.64,265.67 50.11,265.91 50.58,266.15 51.07,266.39 51.56,266.62 52.05,266.86 52.56,267.09 53.07,267.32 53.58,267.55 54.11,267.77 54.64,267.99 55.18,268.21 55.72,268.43 56.27,268.64 56.83,268.85 57.39,269.06 57.97,269.26 58.55,269.46 59.13,269.66 59.72,269.86 60.32,270.05 60.93,270.24 61.54,270.42 62.16,270.61 62.79,270.78 63.42,270.96 64.06,271.13 64.71,271.3 65.36,271.47 66.03,271.63 66.69,271.79 67.37,271.94 68.05,272.1 68.74,272.25 69.43,272.39 70.14,272.53 70.84,272.67 71.56,272.81 72.28,272.94 73.01,273.07 73.75,273.2 74.49,273.32 75.24,273.44 76,273.56 76.76,273.67 77.53,273.78 78.31,273.89 79.1,274 79.89,274.1 80.68,274.2 81.49,274.29 82.3,274.39 83.12,274.48 83.95,274.56 84.78,274.65 85.62,274.73 86.46,274.81 87.32,274.89 88.18,274.97 89.04,275.04 89.92,275.11 90.8,275.18 91.68,275.24 92.58,275.31 93.48,275.37 94.38,275.43 95.3,275.49 96.22,275.54 97.15,275.59 98.08,275.65 99.03,275.7 99.97,275.74 100.93,275.79 101.89,275.83 102.86,275.88 103.84,275.92 104.82,275.96 105.81,276 106.81,276.03 107.81,276.07 108.82,276.1 109.84,276.13 110.86,276.17 111.89,276.2 112.93,276.22 113.98,276.25 115.03,276.28 116.09,276.3 117.15,276.33 118.22,276.35 119.3,276.37 120.39,276.39 121.48,276.41 122.58,276.43 123.69,276.45 124.8,276.47 125.92,276.49 127.05,276.5 128.18,276.52 129.32,276.53 130.47,276.55 131.62,276.56 132.78,276.57 133.95,276.58 135.13,276.6 136.31,276.61 137.5,276.62 138.69,276.63 139.89,276.64 141.1,276.65 142.32,276.65 143.54,276.66 144.77,276.67 146.01,276.68 147.25,276.68 148.5,276.69 149.76,276.7 151.02,276.7 152.29,276.71 153.57,276.71 154.85,276.72 156.14,276.72 157.44,276.73 158.75,276.73 160.06,276.74 161.38,276.74 162.7,276.74 164.04,276.75 165.37,276.75 166.72,276.75 168.07,276.76 169.43,276.76 170.8,276.76" fill="none" stroke="#EDB120" stroke-width="1.1"  stroke-linejoin="round"/>
<polyline points="33.8,276.8 33.8,276.52 33.81,275.69 33.83,274.3 33.85,272.36 33.89,269.87 33.92,266.82 33.97,263.21 34.02,259.05 34.08,254.34 34.14,249.07 34.21,243.24 34.29,236.86 34.38,229.93 34.47,222.44 34.57,214.4 34.68,205.8 34.79,196.65 34.91,188.12 35.04,188.69 35.17,189.29 35.31,189.92 35.46,190.58 35.61,191.26 35.77,191.96 35.94,192.69 36.12,193.44 36.3,194.22 36.49,195.01 36.68,195.83 36.88,196.67 37.09,197.52 37.31,198.4 37.53,199.29 37.76,200.2 38,201.12 38.24,202.06 38.49,203.02 38.75,203.99 39.01,204.97 39.28,205.96 39.56,206.96 39.84,207.98 40.13,209 40.43,210.03 40.74,211.07 41.05,212.11 41.37,213.16 41.69,214.22 42.02,215.28 42.36,216.34 42.71,217.41 43.06,218.47 43.42,219.54 43.79,220.61 44.16,221.68 44.54,222.74 44.93,223.81 45.32,224.87 45.72,225.93 46.13,226.98 46.54,228.03 46.97,229.08 47.39,230.12 47.83,231.15 48.27,232.18 48.72,233.19 49.17,234.2 49.64,235.2 50.11,236.19 50.58,237.18 51.07,238.15 51.56,239.11 52.05,240.06 52.56,241 53.07,241.92 53.58,242.84 54.11,243.74 54.64,244.63 55.18,245.51 55.72,246.37 56.27,247.22 56.83,248.06 57.39,248.88 57.97,249.69 58.55,250.49 59.13,251.27 59.72,252.03 60.32,252.78 60.93,253.52 61.54,254.24 62.16,254.95 62.79,255.64 63.42,256.32 64.06,256.98 64.71,257.63 65.36,258.27 66.03,258.89 66.69,259.49 67.37,260.08 68.05,260.66 68.74,261.22 69.43,261.76 70.14,262.3 70.84,262.82 71.56,263.32 72.28,263.81 73.01,264.29 73.75,264.76 74.49,265.21 75.24,265.65 76,266.07 76.76,266.48 77.53,266.88 78.31,267.27 79.1,267.65 79.89,268.01 80.68,268.37 81.49,268.71 82.3,269.04 83.12,269.36 83.95,269.67 84.78,269.97 85.62,270.26 86.46,270.53 87.32,270.8 88.18,271.06 89.04,271.31 89.92,271.55 90.8,271.79 91.68,272.01 92.58,272.22 93.48,272.43 94.38,272.63 95.3,272.82 96.22,273.01 97.15,273.18 98.08,273.35 99.03,273.52 99.97,273.67 100.93,273.82 101.89,273.97 102.86,274.1 103.84,274.24 104.82,274.36 105.81,274.48 106.81,274.6 107.81,274.71 108.82,274.81 109.84,274.92 110.86,275.01 111.89,275.1 112.93,275.19 113.98,275.28 115.03,275.36 116.09,275.43 117.15,275.51 118.22,275.58 119.3,275.64 120.39,275.7 121.48,275.76 122.58,275.82 123.69,275.88 124.8,275.93 125.92,275.98 127.05,276.02 128.18,276.07 129.32,276.11 130.47,276.15 131.62,276.19 132.78,276.22 133.95,276.25 135.13,276.29 136.31,276.32 137.5,276.35 138.69,276.37 139.89,276.4 141.1,276.42 142.32,276.45 143.54,276.47 144.77,276.49 146.01,276.51 147.25,276.52 148.5,276.54 149.76,276.56 151.02,276.57 152.29,276.59 153.57,276.6 154.85,276.61 156.14,276.63 157.44,276.64 158.75,276.65 160.06,276.66 161.38,276.67 162.7,276.68 164.04,276.68 165.37,276.69 166.72,276.7 168.07,276.71 169.43,276.71 170.8,276.72" fill="none" stroke="#D95319" stroke-width="1.1" stroke-dasharray="2 1.8" stroke-linejoin="round"/>
<rect x="127.4" y="178.6" width="33.2" height="20.8" fill="#fff" stroke="#666" stroke-width="0.8"/>
<line x1="130" y1="182.4" x2="140.6" y2="182.4" stroke="#0072BD" stroke-width="1.3" />
<line x1="130" y1="189" x2="140.6" y2="189" stroke="#D95319" stroke-width="1.0" stroke-dasharray="1.6 1.6"/>
<line x1="130" y1="195.6" x2="140.6" y2="195.6" stroke="#EDB120" stroke-width="1.0" />
<text x="143" y="184.9" font-size="7.3" text-anchor="start" fill="#000" textLength="15.9" lengthAdjust="spacingAndGlyphs">Arm1</text>
<text x="143" y="191.5" font-size="7.3" text-anchor="start" fill="#000" textLength="15.9" lengthAdjust="spacingAndGlyphs">Arm2</text>
<text x="143" y="198.1" font-size="7.3" text-anchor="start" fill="#000" textLength="15.9" lengthAdjust="spacingAndGlyphs">Arm3</text>
<line x1="218.8" y1="174" x2="218.8" y2="275.5" stroke="#6e6e6e" stroke-width="0.8" />
<line x1="218.3" y1="275" x2="356.4" y2="275" stroke="#6e6e6e" stroke-width="0.8" />
<line x1="218.8" y1="275" x2="218.8" y2="273.4" stroke="#6e6e6e" stroke-width="0.6400000000000001" />
<text x="218.8" y="285.1" font-size="7.8" text-anchor="middle" fill="#0a0a0a">0</text>
<line x1="246.32" y1="275" x2="246.32" y2="273.4" stroke="#6e6e6e" stroke-width="0.6400000000000001" />
<text x="246.32" y="285.1" font-size="7.8" text-anchor="middle" fill="#0a0a0a">1</text>
<line x1="273.84" y1="275" x2="273.84" y2="273.4" stroke="#6e6e6e" stroke-width="0.6400000000000001" />
<text x="273.84" y="285.1" font-size="7.8" text-anchor="middle" fill="#0a0a0a">2</text>
<line x1="301.36" y1="275" x2="301.36" y2="273.4" stroke="#6e6e6e" stroke-width="0.6400000000000001" />
<text x="301.36" y="285.1" font-size="7.8" text-anchor="middle" fill="#0a0a0a">3</text>
<line x1="328.88" y1="275" x2="328.88" y2="273.4" stroke="#6e6e6e" stroke-width="0.6400000000000001" />
<text x="328.88" y="285.1" font-size="7.8" text-anchor="middle" fill="#0a0a0a">4</text>
<line x1="356.4" y1="275" x2="356.4" y2="273.4" stroke="#6e6e6e" stroke-width="0.6400000000000001" />
<text x="356.4" y="285.1" font-size="7.8" text-anchor="middle" fill="#0a0a0a">5</text>
<line x1="218.8" y1="275" x2="220.4" y2="275" stroke="#6e6e6e" stroke-width="0.6400000000000001" />
<text x="216.8" y="277.57" font-size="7.8" text-anchor="end" fill="#0a0a0a">0</text>
<line x1="218.8" y1="249.75" x2="220.4" y2="249.75" stroke="#6e6e6e" stroke-width="0.6400000000000001" />
<text x="216.8" y="252.32" font-size="7.8" text-anchor="end" fill="#0a0a0a" textLength="8.6" lengthAdjust="spacingAndGlyphs">0.5</text>
<line x1="218.8" y1="224.5" x2="220.4" y2="224.5" stroke="#6e6e6e" stroke-width="0.6400000000000001" />
<text x="216.8" y="227.07" font-size="7.8" text-anchor="end" fill="#0a0a0a">1</text>
<line x1="218.8" y1="199.25" x2="220.4" y2="199.25" stroke="#6e6e6e" stroke-width="0.6400000000000001" />
<text x="216.8" y="201.82" font-size="7.8" text-anchor="end" fill="#0a0a0a" textLength="8.6" lengthAdjust="spacingAndGlyphs">1.5</text>
<line x1="218.8" y1="174" x2="220.4" y2="174" stroke="#6e6e6e" stroke-width="0.6400000000000001" />
<text x="216.8" y="176.57" font-size="7.8" text-anchor="end" fill="#0a0a0a">2</text>
<text x="285.6" y="292.3" font-size="8.3" text-anchor="middle" fill="#0a0a0a" font-weight="bold" textLength="14.8" lengthAdjust="spacingAndGlyphs">T (s)</text>
<text transform="translate(203.9,224.8) rotate(-90)" font-size="8.1" font-weight="bold" text-anchor="middle" fill="#0a0a0a">EE position error (m)</text>
<polyline points="218.8,180.06 218.8,180.08 218.81,180.13 218.83,180.23 218.86,180.36 218.89,180.52 218.92,180.73 218.97,180.96 219.02,181.24 219.08,181.55 219.14,181.9 219.22,182.28 219.3,182.69 219.38,183.14 219.47,183.63 219.57,184.14 219.68,184.69 219.79,185.27 219.91,185.88 220.04,186.52 220.18,187.19 220.32,187.9 220.46,188.62 220.62,189.38 220.78,190.16 220.95,190.97 221.13,191.8 221.31,192.66 221.5,193.54 221.69,194.44 221.9,195.36 222.11,196.31 222.32,197.27 222.55,198.25 222.78,199.25 223.01,200.26 223.26,201.29 223.51,202.33 223.77,203.39 224.03,204.46 224.3,205.54 224.58,206.63 224.87,207.73 225.16,208.84 225.46,209.95 225.77,211.07 226.08,212.2 226.4,213.33 226.73,214.46 227.06,215.6 227.4,216.74 227.75,217.88 228.1,219.01 228.46,220.15 228.83,221.28 229.21,222.42 229.59,223.54 229.98,224.67 230.37,225.78 230.77,226.9 231.18,228 231.6,229.1 232.02,230.19 232.45,231.27 232.89,232.34 233.33,233.4 233.78,234.45 234.24,235.49 234.71,236.52 235.18,237.54 235.66,238.54 236.14,239.53 236.63,240.51 237.13,241.47 237.64,242.42 238.15,243.35 238.67,244.27 239.2,245.18 239.73,246.07 240.27,246.94 240.82,247.8 241.37,248.64 241.93,249.47 242.5,250.28 243.07,251.07 243.65,251.85 244.24,252.61 244.84,253.35 245.44,254.08 246.05,254.79 246.66,255.48 247.29,256.16 247.92,256.82 248.55,257.47 249.2,258.1 249.85,258.71 250.5,259.31 251.17,259.89 251.84,260.45 252.52,261 253.2,261.53 253.89,262.05 254.59,262.56 255.29,263.04 256.01,263.52 256.73,263.98 257.45,264.42 258.18,264.85 258.92,265.27 259.67,265.67 260.42,266.07 261.18,266.44 261.95,266.81 262.73,267.16 263.51,267.5 264.29,267.83 265.09,268.14 265.89,268.45 266.7,268.74 267.51,269.03 268.34,269.3 269.17,269.56 270,269.81 270.84,270.06 271.69,270.29 272.55,270.51 273.41,270.73 274.28,270.93 275.16,271.13 276.05,271.32 276.94,271.5 277.83,271.67 278.74,271.84 279.65,272 280.57,272.15 281.49,272.3 282.43,272.44 283.37,272.57 284.31,272.7 285.26,272.82 286.22,272.94 287.19,273.05 288.16,273.15 289.14,273.25 290.13,273.35 291.13,273.44 292.13,273.52 293.13,273.61 294.15,273.68 295.17,273.76 296.2,273.83 297.24,273.89 298.28,273.96 299.33,274.02 300.38,274.08 301.45,274.13 302.52,274.18 303.59,274.23 304.68,274.28 305.77,274.32 306.86,274.36 307.97,274.4 309.08,274.44 310.2,274.47 311.32,274.5 312.45,274.53 313.59,274.56 314.74,274.59 315.89,274.62 317.05,274.64 318.22,274.66 319.39,274.69 320.57,274.71 321.76,274.73 322.95,274.74 324.15,274.76 325.36,274.78 326.57,274.79 327.79,274.81 329.02,274.82 330.26,274.83 331.5,274.84 332.75,274.85 334,274.86 335.26,274.87 336.53,274.88 337.81,274.89 339.09,274.9 340.38,274.9 341.68,274.91 342.98,274.92 344.29,274.92 345.61,274.93 346.94,274.93 348.27,274.94 349.61,274.94 350.95,274.95 352.3,274.95 353.66,274.96 355.03,274.96 356.4,274.96" fill="none" stroke="#0072BD" stroke-width="1.4"  stroke-linejoin="round"/>
<polyline points="218.8,226.01 218.8,226.03 218.81,226.06 218.83,226.11 218.86,226.18 218.89,226.28 218.92,226.39 218.97,226.53 219.02,226.68 219.08,226.86 219.14,227.05 219.22,227.27 219.3,227.5 219.38,227.75 219.47,228.02 219.57,228.31 219.68,228.62 219.79,228.95 219.91,229.29 220.04,229.65 220.18,230.03 220.32,230.42 220.46,230.83 220.62,231.25 220.78,231.69 220.95,232.14 221.13,232.6 221.31,233.08 221.5,233.57 221.69,234.07 221.9,234.58 222.11,235.11 222.32,235.64 222.55,236.18 222.78,236.74 223.01,237.3 223.26,237.86 223.51,238.44 223.77,239.02 224.03,239.61 224.3,240.2 224.58,240.8 224.87,241.4 225.16,242 225.46,242.61 225.77,243.22 226.08,243.83 226.4,244.45 226.73,245.06 227.06,245.67 227.4,246.29 227.75,246.9 228.1,247.51 228.46,248.12 228.83,248.73 229.21,249.33 229.59,249.94 229.98,250.53 230.37,251.13 230.77,251.72 231.18,252.3 231.6,252.88 232.02,253.45 232.45,254.02 232.89,254.58 233.33,255.14 233.78,255.69 234.24,256.23 234.71,256.76 235.18,257.29 235.66,257.81 236.14,258.32 236.63,258.82 237.13,259.31 237.64,259.8 238.15,260.27 238.67,260.74 239.2,261.2 239.73,261.65 240.27,262.09 240.82,262.52 241.37,262.94 241.93,263.36 242.5,263.76 243.07,264.15 243.65,264.54 244.24,264.91 244.84,265.28 245.44,265.64 246.05,265.98 246.66,266.32 247.29,266.65 247.92,266.97 248.55,267.28 249.2,267.59 249.85,267.88 250.5,268.16 251.17,268.44 251.84,268.71 252.52,268.97 253.2,269.22 253.89,269.46 254.59,269.7 255.29,269.92 256.01,270.14 256.73,270.36 257.45,270.56 258.18,270.76 258.92,270.95 259.67,271.13 260.42,271.31 261.18,271.48 261.95,271.64 262.73,271.8 263.51,271.95 264.29,272.1 265.09,272.24 265.89,272.37 266.7,272.5 267.51,272.62 268.34,272.74 269.17,272.86 270,272.96 270.84,273.07 271.69,273.17 272.55,273.26 273.41,273.35 274.28,273.44 275.16,273.52 276.05,273.6 276.94,273.68 277.83,273.75 278.74,273.82 279.65,273.88 280.57,273.94 281.49,274 282.43,274.06 283.37,274.11 284.31,274.16 285.26,274.21 286.22,274.26 287.19,274.3 288.16,274.34 289.14,274.38 290.13,274.42 291.13,274.45 292.13,274.48 293.13,274.52 294.15,274.55 295.17,274.57 296.2,274.6 297.24,274.62 298.28,274.65 299.33,274.67 300.38,274.69 301.45,274.71 302.52,274.73 303.59,274.75 304.68,274.76 305.77,274.78 306.86,274.79 307.97,274.81 309.08,274.82 310.2,274.83 311.32,274.84 312.45,274.85 313.59,274.86 314.74,274.87 315.89,274.88 317.05,274.89 318.22,274.9 319.39,274.91 320.57,274.91 321.76,274.92 322.95,274.92 324.15,274.93 325.36,274.93 326.57,274.94 327.79,274.94 329.02,274.95 330.26,274.95 331.5,274.96 332.75,274.96 334,274.96 335.26,274.96 336.53,274.97 337.81,274.97 339.09,274.97 340.38,274.97 341.68,274.98 342.98,274.98 344.29,274.98 345.61,274.98 346.94,274.98 348.27,274.98 349.61,274.99 350.95,274.99 352.3,274.99 353.66,274.99 355.03,274.99 356.4,274.99" fill="none" stroke="#EDB120" stroke-width="1.1"  stroke-linejoin="round"/>
<polyline points="218.8,214.4 218.8,214.41 218.81,214.45 218.83,214.51 218.86,214.6 218.89,214.71 218.92,214.85 218.97,215.01 219.02,215.19 219.08,215.4 219.14,215.63 219.22,215.88 219.3,216.16 219.38,216.46 219.47,216.79 219.57,217.13 219.68,217.5 219.79,217.88 219.91,218.29 220.04,218.72 220.18,219.17 220.32,219.64 220.46,220.12 220.62,220.63 220.78,221.15 220.95,221.68 221.13,222.24 221.31,222.81 221.5,223.39 221.69,223.99 221.9,224.61 222.11,225.23 222.32,225.87 222.55,226.52 222.78,227.18 223.01,227.85 223.26,228.53 223.51,229.22 223.77,229.92 224.03,230.63 224.3,231.34 224.58,232.06 224.87,232.78 225.16,233.51 225.46,234.25 225.77,234.98 226.08,235.72 226.4,236.46 226.73,237.21 227.06,237.95 227.4,238.69 227.75,239.44 228.1,240.18 228.46,240.92 228.83,241.66 229.21,242.4 229.59,243.13 229.98,243.86 230.37,244.58 230.77,245.31 231.18,246.02 231.6,246.73 232.02,247.43 232.45,248.13 232.89,248.82 233.33,249.5 233.78,250.18 234.24,250.85 234.71,251.51 235.18,252.16 235.66,252.8 236.14,253.43 236.63,254.05 237.13,254.67 237.64,255.27 238.15,255.86 238.67,256.45 239.2,257.02 239.73,257.58 240.27,258.13 240.82,258.67 241.37,259.2 241.93,259.72 242.5,260.23 243.07,260.73 243.65,261.21 244.24,261.69 244.84,262.15 245.44,262.6 246.05,263.05 246.66,263.48 247.29,263.9 247.92,264.3 248.55,264.7 249.2,265.09 249.85,265.47 250.5,265.83 251.17,266.19 251.84,266.53 252.52,266.87 253.2,267.19 253.89,267.51 254.59,267.81 255.29,268.11 256.01,268.39 256.73,268.67 257.45,268.94 258.18,269.2 258.92,269.45 259.67,269.69 260.42,269.92 261.18,270.15 261.95,270.36 262.73,270.57 263.51,270.77 264.29,270.97 265.09,271.15 265.89,271.33 266.7,271.51 267.51,271.67 268.34,271.83 269.17,271.98 270,272.13 270.84,272.27 271.69,272.41 272.55,272.53 273.41,272.66 274.28,272.78 275.16,272.89 276.05,273 276.94,273.1 277.83,273.2 278.74,273.29 279.65,273.38 280.57,273.47 281.49,273.55 282.43,273.63 283.37,273.71 284.31,273.78 285.26,273.84 286.22,273.91 287.19,273.97 288.16,274.03 289.14,274.08 290.13,274.13 291.13,274.18 292.13,274.23 293.13,274.28 294.15,274.32 295.17,274.36 296.2,274.4 297.24,274.43 298.28,274.47 299.33,274.5 300.38,274.53 301.45,274.56 302.52,274.59 303.59,274.61 304.68,274.64 305.77,274.66 306.86,274.68 307.97,274.7 309.08,274.72 310.2,274.74 311.32,274.76 312.45,274.77 313.59,274.79 314.74,274.8 315.89,274.81 317.05,274.83 318.22,274.84 319.39,274.85 320.57,274.86 321.76,274.87 322.95,274.88 324.15,274.89 325.36,274.89 326.57,274.9 327.79,274.91 329.02,274.91 330.26,274.92 331.5,274.93 332.75,274.93 334,274.94 335.26,274.94 336.53,274.95 337.81,274.95 339.09,274.95 340.38,274.96 341.68,274.96 342.98,274.96 344.29,274.97 345.61,274.97 346.94,274.97 348.27,274.97 349.61,274.97 350.95,274.98 352.3,274.98 353.66,274.98 355.03,274.98 356.4,274.98" fill="none" stroke="#D95319" stroke-width="1.1" stroke-dasharray="2 1.8" stroke-linejoin="round"/>
<rect x="314" y="178.4" width="32" height="21.6" fill="#fff" stroke="#666" stroke-width="0.8"/>
<line x1="315.6" y1="182.6" x2="326.4" y2="182.6" stroke="#0072BD" stroke-width="1.3" />
<line x1="315.6" y1="189.4" x2="326.4" y2="189.4" stroke="#D95319" stroke-width="1.0" stroke-dasharray="1.6 1.6"/>
<line x1="315.6" y1="196" x2="326.4" y2="196" stroke="#EDB120" stroke-width="1.0" />
<text x="328" y="185.1" font-size="7.3" text-anchor="start" fill="#000" textLength="15.9" lengthAdjust="spacingAndGlyphs">Arm1</text>
<text x="328" y="191.9" font-size="7.3" text-anchor="start" fill="#000" textLength="15.9" lengthAdjust="spacingAndGlyphs">Arm2</text>
<text x="328" y="198.5" font-size="7.3" text-anchor="start" fill="#000" textLength="15.9" lengthAdjust="spacingAndGlyphs">Arm3</text>
<line x1="402.6" y1="174.6" x2="402.6" y2="273.3" stroke="#6e6e6e" stroke-width="0.8" />
<line x1="402.1" y1="272.8" x2="544.6" y2="272.8" stroke="#6e6e6e" stroke-width="0.8" />
<line x1="402.6" y1="272.8" x2="402.6" y2="271.2" stroke="#6e6e6e" stroke-width="0.6400000000000001" />
<text x="402.6" y="282.4" font-size="8.2" text-anchor="middle" fill="#0a0a0a">0</text>
<line x1="431" y1="272.8" x2="431" y2="271.2" stroke="#6e6e6e" stroke-width="0.6400000000000001" />
<text x="431" y="282.4" font-size="8.2" text-anchor="middle" fill="#0a0a0a">1</text>
<line x1="459.4" y1="272.8" x2="459.4" y2="271.2" stroke="#6e6e6e" stroke-width="0.6400000000000001" />
<text x="459.4" y="282.4" font-size="8.2" text-anchor="middle" fill="#0a0a0a">2</text>
<line x1="487.8" y1="272.8" x2="487.8" y2="271.2" stroke="#6e6e6e" stroke-width="0.6400000000000001" />
<text x="487.8" y="282.4" font-size="8.2" text-anchor="middle" fill="#0a0a0a">3</text>
<line x1="516.2" y1="272.8" x2="516.2" y2="271.2" stroke="#6e6e6e" stroke-width="0.6400000000000001" />
<text x="516.2" y="282.4" font-size="8.2" text-anchor="middle" fill="#0a0a0a">4</text>
<line x1="544.6" y1="272.8" x2="544.6" y2="271.2" stroke="#6e6e6e" stroke-width="0.6400000000000001" />
<text x="544.6" y="282.4" font-size="8.2" text-anchor="middle" fill="#0a0a0a">5</text>
<line x1="402.6" y1="272.8" x2="404.2" y2="272.8" stroke="#6e6e6e" stroke-width="0.6400000000000001" />
<text x="400.2" y="276.82" font-size="8.2" text-anchor="end" fill="#0a0a0a">0</text>
<line x1="402.6" y1="248.25" x2="404.2" y2="248.25" stroke="#6e6e6e" stroke-width="0.6400000000000001" />
<text x="400.2" y="252.27" font-size="8.2" text-anchor="end" fill="#0a0a0a" textLength="8.6" lengthAdjust="spacingAndGlyphs">0.5</text>
<line x1="402.6" y1="223.7" x2="404.2" y2="223.7" stroke="#6e6e6e" stroke-width="0.6400000000000001" />
<text x="400.2" y="227.72" font-size="8.2" text-anchor="end" fill="#0a0a0a">1</text>
<line x1="402.6" y1="199.15" x2="404.2" y2="199.15" stroke="#6e6e6e" stroke-width="0.6400000000000001" />
<text x="400.2" y="203.17" font-size="8.2" text-anchor="end" fill="#0a0a0a" textLength="8.6" lengthAdjust="spacingAndGlyphs">1.5</text>
<line x1="402.6" y1="174.6" x2="404.2" y2="174.6" stroke="#6e6e6e" stroke-width="0.6400000000000001" />
<text x="400.2" y="178.62" font-size="8.2" text-anchor="end" fill="#0a0a0a">2</text>
<text x="474" y="292" font-size="8.3" text-anchor="middle" fill="#0a0a0a" font-weight="bold" textLength="14.8" lengthAdjust="spacingAndGlyphs">T (s)</text>
<text transform="translate(387.2,222.6) rotate(-90)" font-size="7.6" font-weight="bold" text-anchor="middle" fill="#0a0a0a">EE attitude error (rad)</text>
<polyline points="402.6,266.42 402.6,266.42 402.61,266.42 402.63,266.43 402.66,266.43 402.69,266.44 402.73,266.45 402.77,266.47 402.83,266.48 402.89,266.5 402.96,266.52 403.03,266.54 403.11,266.56 403.2,266.58 403.3,266.61 403.4,266.64 403.51,266.67 403.63,266.7 403.75,266.73 403.88,266.77 404.02,266.8 404.17,266.84 404.32,266.88 404.48,266.92 404.64,266.97 404.82,267.01 405,267.06 405.19,267.1 405.38,267.15 405.59,267.2 405.8,267.25 406.01,267.31 406.24,267.36 406.47,267.42 406.7,267.47 406.95,267.53 407.2,267.59 407.46,267.65 407.73,267.71 408,267.77 408.28,267.83 408.57,267.89 408.86,267.95 409.16,268.02 409.47,268.08 409.79,268.15 410.11,268.21 410.44,268.28 410.78,268.35 411.12,268.41 411.48,268.48 411.83,268.55 412.2,268.62 412.57,268.68 412.95,268.75 413.34,268.82 413.73,268.89 414.13,268.96 414.54,269.03 414.96,269.09 415.38,269.16 415.81,269.23 416.25,269.3 416.69,269.37 417.14,269.43 417.6,269.5 418.06,269.57 418.54,269.63 419.02,269.7 419.5,269.77 420,269.83 420.5,269.9 421,269.96 421.52,270.02 422.04,270.09 422.57,270.15 423.1,270.21 423.65,270.27 424.2,270.33 424.76,270.39 425.32,270.45 425.89,270.51 426.47,270.57 427.06,270.62 427.65,270.68 428.25,270.74 428.86,270.79 429.47,270.84 430.09,270.9 430.72,270.95 431.36,271 432,271.05 432.65,271.1 433.3,271.15 433.97,271.2 434.64,271.24 435.32,271.29 436,271.33 436.69,271.38 437.39,271.42 438.1,271.46 438.81,271.5 439.53,271.54 440.26,271.58 441,271.62 441.74,271.66 442.49,271.7 443.24,271.73 444.01,271.77 444.78,271.8 445.56,271.84 446.34,271.87 447.13,271.9 447.93,271.93 448.74,271.96 449.55,271.99 450.37,272.02 451.2,272.05 452.03,272.08 452.87,272.1 453.72,272.13 454.58,272.15 455.44,272.18 456.31,272.2 457.18,272.22 458.07,272.24 458.96,272.27 459.86,272.29 460.76,272.31 461.68,272.33 462.6,272.34 463.52,272.36 464.46,272.38 465.4,272.4 466.34,272.41 467.3,272.43 468.26,272.45 469.23,272.46 470.21,272.47 471.19,272.49 472.18,272.5 473.18,272.51 474.18,272.53 475.19,272.54 476.21,272.55 477.24,272.56 478.27,272.57 479.31,272.58 480.36,272.59 481.41,272.6 482.48,272.61 483.54,272.62 484.62,272.63 485.7,272.64 486.79,272.64 487.89,272.65 488.99,272.66 490.1,272.66 491.22,272.67 492.35,272.68 493.48,272.68 494.62,272.69 495.77,272.69 496.92,272.7 498.08,272.7 499.25,272.71 500.42,272.71 501.61,272.72 502.8,272.72 503.99,272.73 505.19,272.73 506.41,272.73 507.62,272.74 508.85,272.74 510.08,272.74 511.32,272.75 512.56,272.75 513.82,272.75 515.08,272.75 516.35,272.76 517.62,272.76 518.9,272.76 520.19,272.76 521.49,272.77 522.79,272.77 524.1,272.77 525.42,272.77 526.74,272.77 528.07,272.77 529.41,272.78 530.75,272.78 532.11,272.78 533.47,272.78 534.83,272.78 536.21,272.78 537.59,272.78 538.98,272.78 540.37,272.79 541.77,272.79 543.18,272.79 544.6,272.79" fill="none" stroke="#0072BD" stroke-width="1.4"  stroke-linejoin="round"/>
<polyline points="402.6,253.16 402.6,253.16 402.61,253.17 402.63,253.19 402.66,253.22 402.69,253.25 402.73,253.29 402.77,253.34 402.83,253.39 402.89,253.45 402.96,253.52 403.03,253.59 403.11,253.67 403.2,253.76 403.3,253.86 403.4,253.96 403.51,254.06 403.63,254.18 403.75,254.3 403.88,254.42 404.02,254.55 404.17,254.69 404.32,254.83 404.48,254.98 404.64,255.13 404.82,255.29 405,255.46 405.19,255.62 405.38,255.8 405.59,255.97 405.8,256.15 406.01,256.34 406.24,256.53 406.47,256.72 406.7,256.92 406.95,257.12 407.2,257.32 407.46,257.53 407.73,257.74 408,257.95 408.28,258.16 408.57,258.38 408.86,258.6 409.16,258.82 409.47,259.04 409.79,259.26 410.11,259.49 410.44,259.71 410.78,259.94 411.12,260.17 411.48,260.4 411.83,260.62 412.2,260.85 412.57,261.08 412.95,261.31 413.34,261.54 413.73,261.76 414.13,261.99 414.54,262.22 414.96,262.44 415.38,262.67 415.81,262.89 416.25,263.11 416.69,263.33 417.14,263.55 417.6,263.77 418.06,263.98 418.54,264.19 419.02,264.41 419.5,264.61 420,264.82 420.5,265.02 421,265.23 421.52,265.43 422.04,265.62 422.57,265.82 423.1,266.01 423.65,266.2 424.2,266.38 424.76,266.56 425.32,266.74 425.89,266.92 426.47,267.09 427.06,267.26 427.65,267.43 428.25,267.6 428.86,267.76 429.47,267.91 430.09,268.07 430.72,268.22 431.36,268.37 432,268.51 432.65,268.66 433.3,268.79 433.97,268.93 434.64,269.06 435.32,269.19 436,269.32 436.69,269.44 437.39,269.56 438.1,269.68 438.81,269.79 439.53,269.9 440.26,270.01 441,270.11 441.74,270.21 442.49,270.31 443.24,270.41 444.01,270.5 444.78,270.59 445.56,270.68 446.34,270.76 447.13,270.84 447.93,270.92 448.74,271 449.55,271.07 450.37,271.14 451.2,271.21 452.03,271.28 452.87,271.35 453.72,271.41 454.58,271.47 455.44,271.53 456.31,271.58 457.18,271.64 458.07,271.69 458.96,271.74 459.86,271.79 460.76,271.83 461.68,271.88 462.6,271.92 463.52,271.96 464.46,272 465.4,272.04 466.34,272.08 467.3,272.11 468.26,272.14 469.23,272.18 470.21,272.21 471.19,272.24 472.18,272.26 473.18,272.29 474.18,272.32 475.19,272.34 476.21,272.37 477.24,272.39 478.27,272.41 479.31,272.43 480.36,272.45 481.41,272.47 482.48,272.49 483.54,272.5 484.62,272.52 485.7,272.53 486.79,272.55 487.89,272.56 488.99,272.58 490.1,272.59 491.22,272.6 492.35,272.61 493.48,272.62 494.62,272.63 495.77,272.64 496.92,272.65 498.08,272.66 499.25,272.67 500.42,272.68 501.61,272.68 502.8,272.69 503.99,272.7 505.19,272.7 506.41,272.71 507.62,272.71 508.85,272.72 510.08,272.72 511.32,272.73 512.56,272.73 513.82,272.74 515.08,272.74 516.35,272.75 517.62,272.75 518.9,272.75 520.19,272.76 521.49,272.76 522.79,272.76 524.1,272.76 525.42,272.77 526.74,272.77 528.07,272.77 529.41,272.77 530.75,272.77 532.11,272.78 533.47,272.78 534.83,272.78 536.21,272.78 537.59,272.78 538.98,272.78 540.37,272.78 541.77,272.79 543.18,272.79 544.6,272.79" fill="none" stroke="#EDB120" stroke-width="1.1"  stroke-linejoin="round"/>
<polyline points="402.6,193.26 402.6,193.27 402.61,193.32 402.63,193.39 402.66,193.49 402.69,193.62 402.73,193.78 402.77,193.97 402.83,194.19 402.89,194.43 402.96,194.71 403.03,195.01 403.11,195.34 403.2,195.69 403.3,196.07 403.4,196.48 403.51,196.91 403.63,197.37 403.75,197.86 403.88,198.37 404.02,198.9 404.17,199.45 404.32,200.03 404.48,200.63 404.64,201.25 404.82,201.89 405,202.55 405.19,203.23 405.38,203.93 405.59,204.65 405.8,205.39 406.01,206.14 406.24,206.91 406.47,207.69 406.7,208.49 406.95,209.3 407.2,210.12 407.46,210.96 407.73,211.8 408,212.66 408.28,213.53 408.57,214.4 408.86,215.29 409.16,216.18 409.47,217.08 409.79,217.98 410.11,218.89 410.44,219.8 410.78,220.72 411.12,221.64 411.48,222.56 411.83,223.49 412.2,224.41 412.57,225.34 412.95,226.26 413.34,227.19 413.73,228.11 414.13,229.03 414.54,229.94 414.96,230.85 415.38,231.76 415.81,232.66 416.25,233.56 416.69,234.45 417.14,235.34 417.6,236.22 418.06,237.09 418.54,237.95 419.02,238.8 419.5,239.65 420,240.48 420.5,241.31 421,242.13 421.52,242.93 422.04,243.73 422.57,244.52 423.1,245.29 423.65,246.05 424.2,246.81 424.76,247.54 425.32,248.27 425.89,248.99 426.47,249.69 427.06,250.38 427.65,251.06 428.25,251.72 428.86,252.38 429.47,253.01 430.09,253.64 430.72,254.25 431.36,254.85 432,255.44 432.65,256.02 433.3,256.58 433.97,257.13 434.64,257.66 435.32,258.18 436,258.69 436.69,259.19 437.39,259.67 438.1,260.15 438.81,260.6 439.53,261.05 440.26,261.49 441,261.91 441.74,262.32 442.49,262.72 443.24,263.1 444.01,263.48 444.78,263.84 445.56,264.2 446.34,264.54 447.13,264.87 447.93,265.19 448.74,265.5 449.55,265.8 450.37,266.1 451.2,266.38 452.03,266.65 452.87,266.91 453.72,267.16 454.58,267.41 455.44,267.64 456.31,267.87 457.18,268.09 458.07,268.3 458.96,268.5 459.86,268.7 460.76,268.89 461.68,269.07 462.6,269.24 463.52,269.41 464.46,269.57 465.4,269.72 466.34,269.87 467.3,270.01 468.26,270.15 469.23,270.28 470.21,270.4 471.19,270.52 472.18,270.63 473.18,270.74 474.18,270.85 475.19,270.95 476.21,271.04 477.24,271.13 478.27,271.22 479.31,271.3 480.36,271.38 481.41,271.46 482.48,271.53 483.54,271.6 484.62,271.66 485.7,271.72 486.79,271.78 487.89,271.84 488.99,271.89 490.1,271.94 491.22,271.99 492.35,272.04 493.48,272.08 494.62,272.12 495.77,272.16 496.92,272.2 498.08,272.23 499.25,272.27 500.42,272.3 501.61,272.33 502.8,272.36 503.99,272.38 505.19,272.41 506.41,272.43 507.62,272.45 508.85,272.48 510.08,272.5 511.32,272.51 512.56,272.53 513.82,272.55 515.08,272.56 516.35,272.58 517.62,272.59 518.9,272.61 520.19,272.62 521.49,272.63 522.79,272.64 524.1,272.65 525.42,272.66 526.74,272.67 528.07,272.68 529.41,272.69 530.75,272.7 532.11,272.7 533.47,272.71 534.83,272.72 536.21,272.72 537.59,272.73 538.98,272.73 540.37,272.74 541.77,272.74 543.18,272.75 544.6,272.75" fill="none" stroke="#D95319" stroke-width="1.1" stroke-dasharray="2 1.8" stroke-linejoin="round"/>
<rect x="500.4" y="178" width="34" height="21.4" fill="#fff" stroke="#666" stroke-width="0.8"/>
<line x1="502.6" y1="182" x2="513.6" y2="182" stroke="#0072BD" stroke-width="1.3" />
<line x1="502.6" y1="188.6" x2="513.6" y2="188.6" stroke="#D95319" stroke-width="1.0" stroke-dasharray="1.6 1.6"/>
<line x1="502.6" y1="195.4" x2="513.6" y2="195.4" stroke="#EDB120" stroke-width="1.0" />
<text x="516" y="184.5" font-size="7.3" text-anchor="start" fill="#000" textLength="15.9" lengthAdjust="spacingAndGlyphs">Arm1</text>
<text x="516" y="191.1" font-size="7.3" text-anchor="start" fill="#000" textLength="15.9" lengthAdjust="spacingAndGlyphs">Arm2</text>
<text x="516" y="197.9" font-size="7.3" text-anchor="start" fill="#000" textLength="15.9" lengthAdjust="spacingAndGlyphs">Arm3</text>
<line x1="212.2" y1="9.4" x2="212.2" y2="118.5" stroke="#6e6e6e" stroke-width="0.8" />
<line x1="211.7" y1="118" x2="367" y2="118" stroke="#6e6e6e" stroke-width="0.8" />
<line x1="212.2" y1="118" x2="212.2" y2="116.4" stroke="#6e6e6e" stroke-width="0.6400000000000001" />
<text x="212.2" y="128.2" font-size="7.6" text-anchor="middle" fill="#0a0a0a">0</text>
<line x1="238" y1="118" x2="238" y2="116.4" stroke="#6e6e6e" stroke-width="0.6400000000000001" />
<text x="238" y="128.2" font-size="7.6" text-anchor="middle" fill="#0a0a0a">1</text>
<line x1="263.8" y1="118" x2="263.8" y2="116.4" stroke="#6e6e6e" stroke-width="0.6400000000000001" />
<text x="263.8" y="128.2" font-size="7.6" text-anchor="middle" fill="#0a0a0a">2</text>
<line x1="289.6" y1="118" x2="289.6" y2="116.4" stroke="#6e6e6e" stroke-width="0.6400000000000001" />
<text x="289.6" y="128.2" font-size="7.6" text-anchor="middle" fill="#0a0a0a">3</text>
<line x1="315.4" y1="118" x2="315.4" y2="116.4" stroke="#6e6e6e" stroke-width="0.6400000000000001" />
<text x="315.4" y="128.2" font-size="7.6" text-anchor="middle" fill="#0a0a0a">4</text>
<line x1="341.2" y1="118" x2="341.2" y2="116.4" stroke="#6e6e6e" stroke-width="0.6400000000000001" />
<text x="341.2" y="128.2" font-size="7.6" text-anchor="middle" fill="#0a0a0a">5</text>
<line x1="367" y1="118" x2="367" y2="116.4" stroke="#6e6e6e" stroke-width="0.6400000000000001" />
<text x="367" y="128.2" font-size="7.6" text-anchor="middle" fill="#0a0a0a">6</text>
<line x1="212.2" y1="9.4" x2="213.8" y2="9.4" stroke="#6e6e6e" stroke-width="0.6400000000000001" />
<text x="210" y="11.91" font-size="7.6" text-anchor="end" fill="#0a0a0a">1.5</text>
<line x1="212.2" y1="27.5" x2="213.8" y2="27.5" stroke="#6e6e6e" stroke-width="0.6400000000000001" />
<text x="210" y="30.01" font-size="7.6" text-anchor="end" fill="#0a0a0a">1</text>
<line x1="212.2" y1="45.6" x2="213.8" y2="45.6" stroke="#6e6e6e" stroke-width="0.6400000000000001" />
<text x="210" y="48.11" font-size="7.6" text-anchor="end" fill="#0a0a0a">0.5</text>
<line x1="212.2" y1="63.7" x2="213.8" y2="63.7" stroke="#6e6e6e" stroke-width="0.6400000000000001" />
<text x="210" y="66.21" font-size="7.6" text-anchor="end" fill="#0a0a0a">0</text>
<line x1="212.2" y1="81.8" x2="213.8" y2="81.8" stroke="#6e6e6e" stroke-width="0.6400000000000001" />
<text x="210" y="84.31" font-size="7.6" text-anchor="end" fill="#0a0a0a">−0.5</text>
<line x1="212.2" y1="99.9" x2="213.8" y2="99.9" stroke="#6e6e6e" stroke-width="0.6400000000000001" />
<text x="210" y="102.41" font-size="7.6" text-anchor="end" fill="#0a0a0a">−1</text>
<line x1="212.2" y1="118" x2="213.8" y2="118" stroke="#6e6e6e" stroke-width="0.6400000000000001" />
<text x="210" y="120.51" font-size="7.6" text-anchor="end" fill="#0a0a0a">−1.5</text>
<text x="276" y="135.5" font-size="7.6" text-anchor="middle" fill="#0a0a0a">T (s)</text>
<text transform="translate(193.4,65.2) rotate(-90)" font-size="7.3" font-weight="bold" text-anchor="middle" fill="#0a0a0a">Angle (rad)</text>
<polyline points="212.2,110.76 212.2,110.77 212.21,110.8 212.23,110.85 212.25,110.92 212.28,111.01 212.32,111.12 212.36,111.25 212.41,111.39 212.46,111.55 212.53,111.72 212.59,111.91 212.67,112.1 212.75,112.31 212.84,112.53 212.93,112.75 213.03,112.98 213.14,113.21 213.26,113.45 213.38,113.68 213.5,113.92 213.64,114.15 213.78,114.38 213.92,114.6 214.08,114.82 214.24,115.02 214.4,115.22 214.57,115.41 214.75,115.59 214.94,115.76 215.13,115.92 215.33,116.06 215.54,116.19 215.75,116.3 215.97,116.4 216.19,116.49 216.42,116.56 216.66,116.62 216.9,116.67 217.15,116.69 217.41,116.71 217.68,116.71 217.95,116.7 218.22,116.68 218.51,116.64 218.8,116.59 219.09,116.53 219.4,116.47 219.7,116.39 220.02,116.3 220.34,116.2 220.67,116.09 221.01,115.98 221.35,115.86 221.7,115.73 222.05,115.6 222.41,115.46 222.78,115.32 223.16,115.18 223.54,115.03 223.93,114.88 224.32,114.72 224.72,114.57 225.13,114.41 225.54,114.25 225.96,114.09 226.39,113.93 226.82,113.77 227.26,113.61 227.71,113.45 228.16,113.3 228.62,113.14 229.09,112.99 229.56,112.83 230.04,112.68 230.52,112.53 231.01,112.38 231.51,112.24 232.02,112.09 232.53,111.95 233.05,111.81 233.57,111.68 234.1,111.54 234.64,111.41 235.18,111.28 235.73,111.16 236.29,111.04 236.85,110.92 237.42,110.8 238,110.69 238.58,110.58 239.17,110.47 239.77,110.36 240.37,110.26 240.98,110.16 241.6,110.06 242.22,109.97 242.85,109.88 243.48,109.79 244.12,109.7 244.77,109.62 245.43,109.53 246.09,109.46 246.76,109.38 247.43,109.3 248.11,109.23 248.8,109.16 249.49,109.1 250.19,109.03 250.9,108.97 251.61,108.91 252.33,108.85 253.06,108.79 253.79,108.74 254.53,108.69 255.28,108.64 256.03,108.59 256.79,108.54 257.55,108.5 258.33,108.45 259.1,108.41 259.89,108.37 260.68,108.33 261.48,108.3 262.28,108.26 263.09,108.23 263.91,108.19 264.74,108.16 265.57,108.13 266.4,108.1 267.25,108.08 268.1,108.05 268.95,108.02 269.82,108 270.69,107.98 271.56,107.95 272.45,107.93 273.34,107.91 274.23,107.89 275.13,107.87 276.04,107.86 276.96,107.84 277.88,107.82 278.81,107.81 279.74,107.79 280.68,107.78 281.63,107.76 282.59,107.75 283.55,107.74 284.51,107.73 285.49,107.72 286.47,107.7 287.46,107.69 288.45,107.68 289.45,107.68 290.46,107.67 291.47,107.66 292.49,107.65 293.51,107.64 294.55,107.64 295.59,107.63 296.63,107.62 297.68,107.62 298.74,107.61 299.81,107.6 300.88,107.6 301.96,107.59 303.04,107.59 304.13,107.58 305.23,107.58 306.33,107.58 307.45,107.57 308.56,107.57 309.69,107.56 310.82,107.56 311.95,107.56 313.1,107.55 314.25,107.55 315.4,107.55 316.57,107.55 317.73,107.54 318.91,107.54 320.09,107.54 321.28,107.54 322.48,107.54 323.68,107.53 324.89,107.53 326.1,107.53 327.32,107.53 328.55,107.53 329.79,107.53 331.03,107.52 332.28,107.52 333.53,107.52 334.79,107.52 336.06,107.52 337.33,107.52 338.61,107.52 339.9,107.52 341.19,107.52 342.49,107.52" fill="none" stroke="#0072BD" stroke-width="1.8"  stroke-linejoin="round"/>
<polyline points="212.2,68.77 212.2,68.77 212.21,68.78 212.23,68.8 212.25,68.83 212.28,68.86 212.32,68.9 212.36,68.95 212.41,69.01 212.46,69.07 212.53,69.14 212.59,69.22 212.67,69.3 212.75,69.39 212.84,69.49 212.93,69.59 213.03,69.7 213.14,69.81 213.26,69.93 213.38,70.06 213.5,70.19 213.64,70.32 213.78,70.46 213.92,70.61 214.08,70.75 214.24,70.91 214.4,71.06 214.57,71.22 214.75,71.38 214.94,71.54 215.13,71.71 215.33,71.88 215.54,72.04 215.75,72.22 215.97,72.39 216.19,72.56 216.42,72.73 216.66,72.91 216.9,73.08 217.15,73.26 217.41,73.43 217.68,73.61 217.95,73.78 218.22,73.95 218.51,74.12 218.8,74.29 219.09,74.46 219.4,74.62 219.7,74.79 220.02,74.95 220.34,75.11 220.67,75.27 221.01,75.42 221.35,75.57 221.7,75.72 222.05,75.87 222.41,76.01 222.78,76.15 223.16,76.29 223.54,76.42 223.93,76.56 224.32,76.68 224.72,76.81 225.13,76.93 225.54,77.05 225.96,77.16 226.39,77.27 226.82,77.38 227.26,77.48 227.71,77.58 228.16,77.68 228.62,77.77 229.09,77.86 229.56,77.95 230.04,78.04 230.52,78.12 231.01,78.2 231.51,78.27 232.02,78.34 232.53,78.41 233.05,78.48 233.57,78.54 234.1,78.6 234.64,78.66 235.18,78.71 235.73,78.77 236.29,78.82 236.85,78.86 237.42,78.91 238,78.95 238.58,78.99 239.17,79.03 239.77,79.07 240.37,79.1 240.98,79.14 241.6,79.17 242.22,79.2 242.85,79.23 243.48,79.25 244.12,79.28 244.77,79.3 245.43,79.32 246.09,79.35 246.76,79.36 247.43,79.38 248.11,79.4 248.8,79.42 249.49,79.43 250.19,79.45 250.9,79.46 251.61,79.47 252.33,79.48 253.06,79.49 253.79,79.5 254.53,79.51 255.28,79.52 256.03,79.53 256.79,79.54 257.55,79.55 258.33,79.55 259.1,79.56 259.89,79.56 260.68,79.57 261.48,79.57 262.28,79.58 263.09,79.58 263.91,79.59 264.74,79.59 265.57,79.59 266.4,79.6 267.25,79.6 268.1,79.6 268.95,79.6 269.82,79.61 270.69,79.61 271.56,79.61 272.45,79.61 273.34,79.61 274.23,79.61 275.13,79.62 276.04,79.62 276.96,79.62 277.88,79.62 278.81,79.62 279.74,79.62 280.68,79.62 281.63,79.62 282.59,79.62 283.55,79.62 284.51,79.62 285.49,79.62 286.47,79.62 287.46,79.62 288.45,79.63 289.45,79.63 290.46,79.63 291.47,79.63 292.49,79.63 293.51,79.63 294.55,79.63 295.59,79.63 296.63,79.63 297.68,79.63 298.74,79.63 299.81,79.63 300.88,79.63 301.96,79.63 303.04,79.63 304.13,79.63 305.23,79.63 306.33,79.63 307.45,79.63 308.56,79.63 309.69,79.63 310.82,79.63 311.95,79.63 313.1,79.63 314.25,79.63 315.4,79.63 316.57,79.63 317.73,79.63 318.91,79.63 320.09,79.63 321.28,79.63 322.48,79.63 323.68,79.63 324.89,79.63 326.1,79.63 327.32,79.63 328.55,79.63 329.79,79.63 331.03,79.63 332.28,79.63 333.53,79.63 334.79,79.63 336.06,79.63 337.33,79.63 338.61,79.63 339.9,79.63 341.19,79.63 342.49,79.63" fill="none" stroke="#0072BD" stroke-width="1.3"  stroke-linejoin="round"/>
<polyline points="212.2,58.63 212.2,58.63 212.21,58.64 212.23,58.65 212.25,58.67 212.28,58.69 212.32,58.71 212.36,58.74 212.41,58.77 212.46,58.81 212.53,58.85 212.59,58.9 212.67,58.95 212.75,59 212.84,59.06 212.93,59.12 213.03,59.19 213.14,59.26 213.26,59.33 213.38,59.41 213.5,59.49 213.64,59.58 213.78,59.67 213.92,59.76 214.08,59.86 214.24,59.96 214.4,60.06 214.57,60.17 214.75,60.28 214.94,60.39 215.13,60.51 215.33,60.63 215.54,60.75 215.75,60.88 215.97,61 216.19,61.13 216.42,61.27 216.66,61.4 216.9,61.54 217.15,61.68 217.41,61.82 217.68,61.97 217.95,62.11 218.22,62.26 218.51,62.41 218.8,62.56 219.09,62.71 219.4,62.87 219.7,63.02 220.02,63.18 220.34,63.34 220.67,63.5 221.01,63.66 221.35,63.82 221.7,63.98 222.05,64.14 222.41,64.31 222.78,64.47 223.16,64.63 223.54,64.8 223.93,64.96 224.32,65.13 224.72,65.29 225.13,65.46 225.54,65.62 225.96,65.79 226.39,65.95 226.82,66.11 227.26,66.28 227.71,66.44 228.16,66.6 228.62,66.76 229.09,66.92 229.56,67.08 230.04,67.24 230.52,67.4 231.01,67.56 231.51,67.71 232.02,67.87 232.53,68.02 233.05,68.17 233.57,68.32 234.1,68.47 234.64,68.62 235.18,68.76 235.73,68.91 236.29,69.05 236.85,69.19 237.42,69.33 238,69.47 238.58,69.61 239.17,69.74 239.77,69.88 240.37,70.01 240.98,70.14 241.6,70.27 242.22,70.39 242.85,70.52 243.48,70.64 244.12,70.76 244.77,70.88 245.43,70.99 246.09,71.11 246.76,71.22 247.43,71.33 248.11,71.44 248.8,71.54 249.49,71.65 250.19,71.75 250.9,71.85 251.61,71.95 252.33,72.05 253.06,72.14 253.79,72.23 254.53,72.32 255.28,72.41 256.03,72.5 256.79,72.58 257.55,72.67 258.33,72.75 259.1,72.83 259.89,72.9 260.68,72.98 261.48,73.05 262.28,73.13 263.09,73.2 263.91,73.26 264.74,73.33 265.57,73.4 266.4,73.46 267.25,73.52 268.1,73.58 268.95,73.64 269.82,73.7 270.69,73.75 271.56,73.81 272.45,73.86 273.34,73.91 274.23,73.96 275.13,74.01 276.04,74.05 276.96,74.1 277.88,74.14 278.81,74.18 279.74,74.23 280.68,74.27 281.63,74.3 282.59,74.34 283.55,74.38 284.51,74.41 285.49,74.45 286.47,74.48 287.46,74.51 288.45,74.54 289.45,74.57 290.46,74.6 291.47,74.63 292.49,74.65 293.51,74.68 294.55,74.71 295.59,74.73 296.63,74.75 297.68,74.77 298.74,74.8 299.81,74.82 300.88,74.84 301.96,74.86 303.04,74.87 304.13,74.89 305.23,74.91 306.33,74.93 307.45,74.94 308.56,74.96 309.69,74.97 310.82,74.99 311.95,75 313.1,75.01 314.25,75.03 315.4,75.04 316.57,75.05 317.73,75.06 318.91,75.07 320.09,75.08 321.28,75.09 322.48,75.1 323.68,75.11 324.89,75.12 326.1,75.12 327.32,75.13 328.55,75.14 329.79,75.15 331.03,75.15 332.28,75.16 333.53,75.17 334.79,75.17 336.06,75.18 337.33,75.18 338.61,75.19 339.9,75.19 341.19,75.2 342.49,75.2" fill="none" stroke="#77AC30" stroke-width="2.3"  stroke-linejoin="round"/>
<polyline points="212.2,58.09 212.2,58.09 212.21,58.1 212.23,58.12 212.25,58.14 212.28,58.17 212.32,58.2 212.36,58.24 212.41,58.29 212.46,58.35 212.53,58.41 212.59,58.47 212.67,58.54 212.75,58.62 212.84,58.7 212.93,58.79 213.03,58.89 213.14,58.99 213.26,59.09 213.38,59.2 213.5,59.32 213.64,59.44 213.78,59.56 213.92,59.69 214.08,59.82 214.24,59.96 214.4,60.1 214.57,60.25 214.75,60.4 214.94,60.55 215.13,60.71 215.33,60.87 215.54,61.04 215.75,61.2 215.97,61.37 216.19,61.54 216.42,61.72 216.66,61.89 216.9,62.07 217.15,62.25 217.41,62.44 217.68,62.62 217.95,62.8 218.22,62.99 218.51,63.18 218.8,63.36 219.09,63.55 219.4,63.74 219.7,63.93 220.02,64.12 220.34,64.31 220.67,64.5 221.01,64.69 221.35,64.87 221.7,65.06 222.05,65.25 222.41,65.43 222.78,65.62 223.16,65.8 223.54,65.98 223.93,66.16 224.32,66.34 224.72,66.52 225.13,66.7 225.54,66.87 225.96,67.04 226.39,67.21 226.82,67.38 227.26,67.55 227.71,67.71 228.16,67.87 228.62,68.03 229.09,68.19 229.56,68.34 230.04,68.49 230.52,68.64 231.01,68.78 231.51,68.93 232.02,69.07 232.53,69.2 233.05,69.34 233.57,69.47 234.1,69.6 234.64,69.73 235.18,69.85 235.73,69.97 236.29,70.09 236.85,70.2 237.42,70.31 238,70.42 238.58,70.53 239.17,70.63 239.77,70.73 240.37,70.83 240.98,70.92 241.6,71.02 242.22,71.11 242.85,71.19 243.48,71.28 244.12,71.36 244.77,71.44 245.43,71.52 246.09,71.59 246.76,71.66 247.43,71.73 248.11,71.8 248.8,71.86 249.49,71.93 250.19,71.99 250.9,72.04 251.61,72.1 252.33,72.16 253.06,72.21 253.79,72.26 254.53,72.31 255.28,72.35 256.03,72.4 256.79,72.44 257.55,72.48 258.33,72.52 259.1,72.56 259.89,72.59 260.68,72.63 261.48,72.66 262.28,72.69 263.09,72.73 263.91,72.75 264.74,72.78 265.57,72.81 266.4,72.83 267.25,72.86 268.1,72.88 268.95,72.9 269.82,72.93 270.69,72.95 271.56,72.96 272.45,72.98 273.34,73 274.23,73.02 275.13,73.03 276.04,73.05 276.96,73.06 277.88,73.07 278.81,73.09 279.74,73.1 280.68,73.11 281.63,73.12 282.59,73.13 283.55,73.14 284.51,73.15 285.49,73.16 286.47,73.17 287.46,73.18 288.45,73.18 289.45,73.19 290.46,73.2 291.47,73.2 292.49,73.21 293.51,73.21 294.55,73.22 295.59,73.22 296.63,73.23 297.68,73.23 298.74,73.24 299.81,73.24 300.88,73.24 301.96,73.25 303.04,73.25 304.13,73.25 305.23,73.26 306.33,73.26 307.45,73.26 308.56,73.26 309.69,73.27 310.82,73.27 311.95,73.27 313.1,73.27 314.25,73.27 315.4,73.27 316.57,73.28 317.73,73.28 318.91,73.28 320.09,73.28 321.28,73.28 322.48,73.28 323.68,73.28 324.89,73.28 326.1,73.28 327.32,73.28 328.55,73.28 329.79,73.29 331.03,73.29 332.28,73.29 333.53,73.29 334.79,73.29 336.06,73.29 337.33,73.29 338.61,73.29 339.9,73.29 341.19,73.29 342.49,73.29" fill="none" stroke="#d06a80" stroke-width="0.8"  stroke-linejoin="round"/>
<polyline points="212.2,51.75 212.2,51.76 212.21,51.76 212.23,51.77 212.25,51.78 212.28,51.8 212.32,51.82 212.36,51.85 212.41,51.87 212.46,51.91 212.53,51.94 212.59,51.98 212.67,52.02 212.75,52.07 212.84,52.12 212.93,52.17 213.03,52.23 213.14,52.29 213.26,52.35 213.38,52.42 213.5,52.48 213.64,52.56 213.78,52.63 213.92,52.71 214.08,52.79 214.24,52.88 214.4,52.96 214.57,53.05 214.75,53.14 214.94,53.24 215.13,53.34 215.33,53.44 215.54,53.54 215.75,53.64 215.97,53.75 216.19,53.85 216.42,53.96 216.66,54.08 216.9,54.19 217.15,54.3 217.41,54.42 217.68,54.54 217.95,54.66 218.22,54.78 218.51,54.9 218.8,55.02 219.09,55.15 219.4,55.27 219.7,55.4 220.02,55.52 220.34,55.65 220.67,55.78 221.01,55.9 221.35,56.03 221.7,56.16 222.05,56.29 222.41,56.42 222.78,56.55 223.16,56.67 223.54,56.8 223.93,56.93 224.32,57.06 224.72,57.19 225.13,57.31 225.54,57.44 225.96,57.57 226.39,57.69 226.82,57.82 227.26,57.94 227.71,58.06 228.16,58.19 228.62,58.31 229.09,58.43 229.56,58.55 230.04,58.67 230.52,58.78 231.01,58.9 231.51,59.01 232.02,59.13 232.53,59.24 233.05,59.35 233.57,59.46 234.1,59.57 234.64,59.67 235.18,59.78 235.73,59.88 236.29,59.98 236.85,60.08 237.42,60.18 238,60.28 238.58,60.37 239.17,60.47 239.77,60.56 240.37,60.65 240.98,60.74 241.6,60.82 242.22,60.91 242.85,60.99 243.48,61.08 244.12,61.16 244.77,61.23 245.43,61.31 246.09,61.39 246.76,61.46 247.43,61.53 248.11,61.6 248.8,61.67 249.49,61.74 250.19,61.8 250.9,61.87 251.61,61.93 252.33,61.99 253.06,62.05 253.79,62.11 254.53,62.16 255.28,62.22 256.03,62.27 256.79,62.32 257.55,62.37 258.33,62.42 259.1,62.47 259.89,62.51 260.68,62.56 261.48,62.6 262.28,62.64 263.09,62.69 263.91,62.72 264.74,62.76 265.57,62.8 266.4,62.84 267.25,62.87 268.1,62.9 268.95,62.94 269.82,62.97 270.69,63 271.56,63.03 272.45,63.05 273.34,63.08 274.23,63.11 275.13,63.13 276.04,63.16 276.96,63.18 277.88,63.2 278.81,63.23 279.74,63.25 280.68,63.27 281.63,63.29 282.59,63.31 283.55,63.32 284.51,63.34 285.49,63.36 286.47,63.37 287.46,63.39 288.45,63.4 289.45,63.42 290.46,63.43 291.47,63.44 292.49,63.46 293.51,63.47 294.55,63.48 295.59,63.49 296.63,63.5 297.68,63.51 298.74,63.52 299.81,63.53 300.88,63.54 301.96,63.55 303.04,63.55 304.13,63.56 305.23,63.57 306.33,63.58 307.45,63.58 308.56,63.59 309.69,63.59 310.82,63.6 311.95,63.6 313.1,63.61 314.25,63.61 315.4,63.62 316.57,63.62 317.73,63.63 318.91,63.63 320.09,63.64 321.28,63.64 322.48,63.64 323.68,63.65 324.89,63.65 326.1,63.65 327.32,63.65 328.55,63.66 329.79,63.66 331.03,63.66 332.28,63.66 333.53,63.67 334.79,63.67 336.06,63.67 337.33,63.67 338.61,63.67 339.9,63.68 341.19,63.68 342.49,63.68" fill="none" stroke="#4DBEEE" stroke-width="1.6"  stroke-linejoin="round"/>
<polyline points="212.2,51.39 212.2,51.39 212.21,51.4 212.23,51.41 212.25,51.42 212.28,51.44 212.32,51.45 212.36,51.48 212.41,51.5 212.46,51.53 212.53,51.56 212.59,51.6 212.67,51.64 212.75,51.68 212.84,51.73 212.93,51.77 213.03,51.83 213.14,51.88 213.26,51.94 213.38,52 213.5,52.06 213.64,52.13 213.78,52.2 213.92,52.27 214.08,52.35 214.24,52.43 214.4,52.51 214.57,52.59 214.75,52.67 214.94,52.76 215.13,52.85 215.33,52.94 215.54,53.04 215.75,53.14 215.97,53.23 216.19,53.34 216.42,53.44 216.66,53.54 216.9,53.65 217.15,53.76 217.41,53.87 217.68,53.98 217.95,54.09 218.22,54.2 218.51,54.32 218.8,54.44 219.09,54.55 219.4,54.67 219.7,54.79 220.02,54.91 220.34,55.03 220.67,55.15 221.01,55.28 221.35,55.4 221.7,55.52 222.05,55.65 222.41,55.77 222.78,55.9 223.16,56.02 223.54,56.15 223.93,56.27 224.32,56.4 224.72,56.52 225.13,56.65 225.54,56.77 225.96,56.9 226.39,57.02 226.82,57.14 227.26,57.27 227.71,57.39 228.16,57.51 228.62,57.63 229.09,57.75 229.56,57.87 230.04,57.99 230.52,58.11 231.01,58.23 231.51,58.34 232.02,58.46 232.53,58.57 233.05,58.68 233.57,58.8 234.1,58.91 234.64,59.02 235.18,59.13 235.73,59.23 236.29,59.34 236.85,59.44 237.42,59.55 238,59.65 238.58,59.75 239.17,59.85 239.77,59.95 240.37,60.04 240.98,60.14 241.6,60.23 242.22,60.32 242.85,60.41 243.48,60.5 244.12,60.59 244.77,60.67 245.43,60.76 246.09,60.84 246.76,60.92 247.43,61 248.11,61.08 248.8,61.16 249.49,61.23 250.19,61.3 250.9,61.38 251.61,61.45 252.33,61.51 253.06,61.58 253.79,61.65 254.53,61.71 255.28,61.77 256.03,61.84 256.79,61.9 257.55,61.95 258.33,62.01 259.1,62.07 259.89,62.12 260.68,62.17 261.48,62.23 262.28,62.28 263.09,62.33 263.91,62.37 264.74,62.42 265.57,62.46 266.4,62.51 267.25,62.55 268.1,62.59 268.95,62.63 269.82,62.67 270.69,62.71 271.56,62.75 272.45,62.78 273.34,62.82 274.23,62.85 275.13,62.88 276.04,62.91 276.96,62.94 277.88,62.97 278.81,63 279.74,63.03 280.68,63.06 281.63,63.08 282.59,63.11 283.55,63.13 284.51,63.15 285.49,63.18 286.47,63.2 287.46,63.22 288.45,63.24 289.45,63.26 290.46,63.28 291.47,63.29 292.49,63.31 293.51,63.33 294.55,63.35 295.59,63.36 296.63,63.38 297.68,63.39 298.74,63.4 299.81,63.42 300.88,63.43 301.96,63.44 303.04,63.45 304.13,63.47 305.23,63.48 306.33,63.49 307.45,63.5 308.56,63.51 309.69,63.52 310.82,63.52 311.95,63.53 313.1,63.54 314.25,63.55 315.4,63.56 316.57,63.56 317.73,63.57 318.91,63.58 320.09,63.58 321.28,63.59 322.48,63.59 323.68,63.6 324.89,63.6 326.1,63.61 327.32,63.61 328.55,63.62 329.79,63.62 331.03,63.63 332.28,63.63 333.53,63.63 334.79,63.64 336.06,63.64 337.33,63.64 338.61,63.65 339.9,63.65 341.19,63.65 342.49,63.65" fill="none" stroke="#0072BD" stroke-width="2.4"  stroke-linejoin="round"/>
<polyline points="212.2,51.39 212.2,51.4 212.21,51.4 212.23,51.42 212.25,51.44 212.28,51.47 212.32,51.5 212.36,51.54 212.41,51.58 212.46,51.63 212.53,51.68 212.59,51.74 212.67,51.8 212.75,51.87 212.84,51.94 212.93,52.02 213.03,52.1 213.14,52.18 213.26,52.26 213.38,52.35 213.5,52.44 213.64,52.53 213.78,52.62 213.92,52.71 214.08,52.8 214.24,52.9 214.4,52.99 214.57,53.08 214.75,53.18 214.94,53.27 215.13,53.36 215.33,53.45 215.54,53.54 215.75,53.63 215.97,53.71 216.19,53.79 216.42,53.87 216.66,53.95 216.9,54.03 217.15,54.1 217.41,54.17 217.68,54.24 217.95,54.3 218.22,54.36 218.51,54.42 218.8,54.47 219.09,54.52 219.4,54.57 219.7,54.61 220.02,54.66 220.34,54.7 220.67,54.73 221.01,54.76 221.35,54.79 221.7,54.82 222.05,54.84 222.41,54.87 222.78,54.89 223.16,54.9 223.54,54.92 223.93,54.93 224.32,54.94 224.72,54.95 225.13,54.95 225.54,54.95 225.96,54.96 226.39,54.96 226.82,54.96 227.26,54.95 227.71,54.95 228.16,54.94 228.62,54.94 229.09,54.93 229.56,54.92 230.04,54.91 230.52,54.9 231.01,54.89 231.51,54.88 232.02,54.87 232.53,54.85 233.05,54.84 233.57,54.83 234.1,54.81 234.64,54.8 235.18,54.78 235.73,54.77 236.29,54.75 236.85,54.74 237.42,54.72 238,54.71 238.58,54.69 239.17,54.68 239.77,54.66 240.37,54.64 240.98,54.63 241.6,54.61 242.22,54.6 242.85,54.58 243.48,54.57 244.12,54.55 244.77,54.54 245.43,54.52 246.09,54.51 246.76,54.49 247.43,54.48 248.11,54.46 248.8,54.45 249.49,54.44 250.19,54.42 250.9,54.41 251.61,54.4 252.33,54.38 253.06,54.37 253.79,54.36 254.53,54.35 255.28,54.33 256.03,54.32 256.79,54.31 257.55,54.3 258.33,54.29 259.1,54.28 259.89,54.27 260.68,54.26 261.48,54.25 262.28,54.24 263.09,54.23 263.91,54.22 264.74,54.21 265.57,54.2 266.4,54.19 267.25,54.18 268.1,54.17 268.95,54.17 269.82,54.16 270.69,54.15 271.56,54.14 272.45,54.14 273.34,54.13 274.23,54.12 275.13,54.12 276.04,54.11 276.96,54.1 277.88,54.1 278.81,54.09 279.74,54.08 280.68,54.08 281.63,54.07 282.59,54.07 283.55,54.06 284.51,54.06 285.49,54.05 286.47,54.05 287.46,54.04 288.45,54.04 289.45,54.03 290.46,54.03 291.47,54.03 292.49,54.02 293.51,54.02 294.55,54.02 295.59,54.01 296.63,54.01 297.68,54.01 298.74,54 299.81,54 300.88,54 301.96,53.99 303.04,53.99 304.13,53.99 305.23,53.99 306.33,53.98 307.45,53.98 308.56,53.98 309.69,53.98 310.82,53.97 311.95,53.97 313.1,53.97 314.25,53.97 315.4,53.97 316.57,53.96 317.73,53.96 318.91,53.96 320.09,53.96 321.28,53.96 322.48,53.96 323.68,53.95 324.89,53.95 326.1,53.95 327.32,53.95 328.55,53.95 329.79,53.95 331.03,53.95 332.28,53.95 333.53,53.95 334.79,53.94 336.06,53.94 337.33,53.94 338.61,53.94 339.9,53.94 341.19,53.94 342.49,53.94" fill="none" stroke="#D95319" stroke-width="1.1" stroke-dasharray="1.6 1.8" stroke-linejoin="round"/>
<polyline points="212.2,47.05 212.2,47.05 212.21,47.05 212.23,47.06 212.25,47.06 212.28,47.07 212.32,47.08 212.36,47.09 212.41,47.1 212.46,47.11 212.53,47.13 212.59,47.15 212.67,47.16 212.75,47.18 212.84,47.21 212.93,47.23 213.03,47.25 213.14,47.28 213.26,47.31 213.38,47.33 213.5,47.36 213.64,47.4 213.78,47.43 213.92,47.46 214.08,47.5 214.24,47.53 214.4,47.57 214.57,47.61 214.75,47.65 214.94,47.69 215.13,47.73 215.33,47.78 215.54,47.82 215.75,47.87 215.97,47.92 216.19,47.96 216.42,48.01 216.66,48.06 216.9,48.11 217.15,48.16 217.41,48.21 217.68,48.26 217.95,48.32 218.22,48.37 218.51,48.43 218.8,48.48 219.09,48.54 219.4,48.59 219.7,48.65 220.02,48.7 220.34,48.76 220.67,48.82 221.01,48.88 221.35,48.93 221.7,48.99 222.05,49.05 222.41,49.11 222.78,49.17 223.16,49.23 223.54,49.29 223.93,49.34 224.32,49.4 224.72,49.46 225.13,49.52 225.54,49.58 225.96,49.64 226.39,49.7 226.82,49.75 227.26,49.81 227.71,49.87 228.16,49.93 228.62,49.98 229.09,50.04 229.56,50.1 230.04,50.15 230.52,50.21 231.01,50.26 231.51,50.32 232.02,50.37 232.53,50.43 233.05,50.48 233.57,50.53 234.1,50.58 234.64,50.64 235.18,50.69 235.73,50.74 236.29,50.79 236.85,50.84 237.42,50.89 238,50.93 238.58,50.98 239.17,51.03 239.77,51.07 240.37,51.12 240.98,51.16 241.6,51.21 242.22,51.25 242.85,51.29 243.48,51.33 244.12,51.38 244.77,51.42 245.43,51.46 246.09,51.49 246.76,51.53 247.43,51.57 248.11,51.61 248.8,51.64 249.49,51.68 250.19,51.71 250.9,51.75 251.61,51.78 252.33,51.81 253.06,51.84 253.79,51.87 254.53,51.9 255.28,51.93 256.03,51.96 256.79,51.99 257.55,52.02 258.33,52.05 259.1,52.07 259.89,52.1 260.68,52.12 261.48,52.15 262.28,52.17 263.09,52.19 263.91,52.22 264.74,52.24 265.57,52.26 266.4,52.28 267.25,52.3 268.1,52.32 268.95,52.34 269.82,52.36 270.69,52.37 271.56,52.39 272.45,52.41 273.34,52.42 274.23,52.44 275.13,52.45 276.04,52.47 276.96,52.48 277.88,52.5 278.81,52.51 279.74,52.52 280.68,52.54 281.63,52.55 282.59,52.56 283.55,52.57 284.51,52.58 285.49,52.59 286.47,52.6 287.46,52.61 288.45,52.62 289.45,52.63 290.46,52.64 291.47,52.65 292.49,52.66 293.51,52.67 294.55,52.67 295.59,52.68 296.63,52.69 297.68,52.69 298.74,52.7 299.81,52.71 300.88,52.71 301.96,52.72 303.04,52.72 304.13,52.73 305.23,52.73 306.33,52.74 307.45,52.74 308.56,52.75 309.69,52.75 310.82,52.76 311.95,52.76 313.1,52.76 314.25,52.77 315.4,52.77 316.57,52.78 317.73,52.78 318.91,52.78 320.09,52.78 321.28,52.79 322.48,52.79 323.68,52.79 324.89,52.79 326.1,52.8 327.32,52.8 328.55,52.8 329.79,52.8 331.03,52.81 332.28,52.81 333.53,52.81 334.79,52.81 336.06,52.81 337.33,52.81 338.61,52.81 339.9,52.82 341.19,52.82 342.49,52.82" fill="none" stroke="#77AC30" stroke-width="2.2"  stroke-linejoin="round"/>
<polyline points="212.2,58.27 212.2,58.27 212.21,58.26 212.23,58.25 212.25,58.24 212.28,58.22 212.32,58.2 212.36,58.18 212.41,58.15 212.46,58.12 212.53,58.09 212.59,58.05 212.67,58.01 212.75,57.97 212.84,57.92 212.93,57.87 213.03,57.81 213.14,57.76 213.26,57.69 213.38,57.63 213.5,57.56 213.64,57.5 213.78,57.42 213.92,57.35 214.08,57.27 214.24,57.19 214.4,57.11 214.57,57.02 214.75,56.93 214.94,56.84 215.13,56.75 215.33,56.66 215.54,56.56 215.75,56.46 215.97,56.36 216.19,56.26 216.42,56.16 216.66,56.05 216.9,55.95 217.15,55.84 217.41,55.73 217.68,55.62 217.95,55.51 218.22,55.4 218.51,55.28 218.8,55.17 219.09,55.05 219.4,54.94 219.7,54.82 220.02,54.71 220.34,54.59 220.67,54.47 221.01,54.36 221.35,54.24 221.7,54.12 222.05,54.01 222.41,53.89 222.78,53.78 223.16,53.66 223.54,53.54 223.93,53.43 224.32,53.31 224.72,53.2 225.13,53.09 225.54,52.98 225.96,52.86 226.39,52.75 226.82,52.64 227.26,52.54 227.71,52.43 228.16,52.32 228.62,52.22 229.09,52.11 229.56,52.01 230.04,51.91 230.52,51.81 231.01,51.71 231.51,51.61 232.02,51.52 232.53,51.42 233.05,51.33 233.57,51.24 234.1,51.15 234.64,51.06 235.18,50.97 235.73,50.89 236.29,50.8 236.85,50.72 237.42,50.64 238,50.56 238.58,50.49 239.17,50.41 239.77,50.34 240.37,50.26 240.98,50.19 241.6,50.12 242.22,50.06 242.85,49.99 243.48,49.93 244.12,49.86 244.77,49.8 245.43,49.74 246.09,49.69 246.76,49.63 247.43,49.58 248.11,49.52 248.8,49.47 249.49,49.42 250.19,49.37 250.9,49.32 251.61,49.28 252.33,49.23 253.06,49.19 253.79,49.15 254.53,49.11 255.28,49.07 256.03,49.03 256.79,48.99 257.55,48.96 258.33,48.92 259.1,48.89 259.89,48.86 260.68,48.83 261.48,48.8 262.28,48.77 263.09,48.74 263.91,48.71 264.74,48.69 265.57,48.66 266.4,48.64 267.25,48.61 268.1,48.59 268.95,48.57 269.82,48.55 270.69,48.53 271.56,48.51 272.45,48.49 273.34,48.48 274.23,48.46 275.13,48.44 276.04,48.43 276.96,48.41 277.88,48.4 278.81,48.39 279.74,48.37 280.68,48.36 281.63,48.35 282.59,48.34 283.55,48.33 284.51,48.32 285.49,48.31 286.47,48.3 287.46,48.29 288.45,48.28 289.45,48.27 290.46,48.27 291.47,48.26 292.49,48.25 293.51,48.25 294.55,48.24 295.59,48.23 296.63,48.23 297.68,48.22 298.74,48.22 299.81,48.21 300.88,48.21 301.96,48.2 303.04,48.2 304.13,48.2 305.23,48.19 306.33,48.19 307.45,48.19 308.56,48.18 309.69,48.18 310.82,48.18 311.95,48.17 313.1,48.17 314.25,48.17 315.4,48.17 316.57,48.17 317.73,48.16 318.91,48.16 320.09,48.16 321.28,48.16 322.48,48.16 323.68,48.16 324.89,48.15 326.1,48.15 327.32,48.15 328.55,48.15 329.79,48.15 331.03,48.15 332.28,48.15 333.53,48.15 334.79,48.15 336.06,48.14 337.33,48.14 338.61,48.14 339.9,48.14 341.19,48.14 342.49,48.14" fill="none" stroke="#EDB120" stroke-width="0.9" stroke-dasharray="3 1" stroke-linejoin="round"/>
<polyline points="212.2,46.32 212.2,46.32 212.21,46.29 212.23,46.25 212.25,46.2 212.28,46.13 212.32,46.04 212.36,45.94 212.41,45.83 212.46,45.71 212.53,45.58 212.59,45.44 212.67,45.29 212.75,45.14 212.84,44.98 212.93,44.82 213.03,44.65 213.14,44.49 213.26,44.32 213.38,44.16 213.5,44.01 213.64,43.85 213.78,43.7 213.92,43.56 214.08,43.42 214.24,43.3 214.4,43.18 214.57,43.07 214.75,42.96 214.94,42.87 215.13,42.79 215.33,42.71 215.54,42.65 215.75,42.59 215.97,42.55 216.19,42.51 216.42,42.48 216.66,42.46 216.9,42.45 217.15,42.45 217.41,42.45 217.68,42.46 217.95,42.48 218.22,42.5 218.51,42.53 218.8,42.57 219.09,42.6 219.4,42.65 219.7,42.69 220.02,42.75 220.34,42.8 220.67,42.86 221.01,42.92 221.35,42.98 221.7,43.04 222.05,43.11 222.41,43.18 222.78,43.25 223.16,43.32 223.54,43.39 223.93,43.46 224.32,43.53 224.72,43.61 225.13,43.68 225.54,43.76 225.96,43.83 226.39,43.91 226.82,43.98 227.26,44.06 227.71,44.13 228.16,44.21 228.62,44.28 229.09,44.36 229.56,44.43 230.04,44.51 230.52,44.58 231.01,44.66 231.51,44.73 232.02,44.8 232.53,44.87 233.05,44.95 233.57,45.02 234.1,45.09 234.64,45.16 235.18,45.23 235.73,45.3 236.29,45.37 236.85,45.43 237.42,45.5 238,45.57 238.58,45.63 239.17,45.7 239.77,45.76 240.37,45.82 240.98,45.89 241.6,45.95 242.22,46.01 242.85,46.07 243.48,46.13 244.12,46.19 244.77,46.24 245.43,46.3 246.09,46.35 246.76,46.41 247.43,46.46 248.11,46.52 248.8,46.57 249.49,46.62 250.19,46.67 250.9,46.72 251.61,46.77 252.33,46.81 253.06,46.86 253.79,46.91 254.53,46.95 255.28,47 256.03,47.04 256.79,47.08 257.55,47.12 258.33,47.16 259.1,47.2 259.89,47.24 260.68,47.28 261.48,47.32 262.28,47.35 263.09,47.39 263.91,47.42 264.74,47.46 265.57,47.49 266.4,47.52 267.25,47.55 268.1,47.58 268.95,47.61 269.82,47.64 270.69,47.67 271.56,47.7 272.45,47.73 273.34,47.75 274.23,47.78 275.13,47.8 276.04,47.83 276.96,47.85 277.88,47.87 278.81,47.89 279.74,47.91 280.68,47.94 281.63,47.96 282.59,47.98 283.55,47.99 284.51,48.01 285.49,48.03 286.47,48.05 287.46,48.07 288.45,48.08 289.45,48.1 290.46,48.11 291.47,48.13 292.49,48.14 293.51,48.16 294.55,48.17 295.59,48.18 296.63,48.19 297.68,48.21 298.74,48.22 299.81,48.23 300.88,48.24 301.96,48.25 303.04,48.26 304.13,48.27 305.23,48.28 306.33,48.29 307.45,48.3 308.56,48.31 309.69,48.31 310.82,48.32 311.95,48.33 313.1,48.34 314.25,48.34 315.4,48.35 316.57,48.36 317.73,48.36 318.91,48.37 320.09,48.37 321.28,48.38 322.48,48.39 323.68,48.39 324.89,48.4 326.1,48.4 327.32,48.4 328.55,48.41 329.79,48.41 331.03,48.42 332.28,48.42 333.53,48.42 334.79,48.43 336.06,48.43 337.33,48.43 338.61,48.44 339.9,48.44 341.19,48.44 342.49,48.44" fill="none" stroke="#D95319" stroke-width="1.8"  stroke-linejoin="round"/>
<polyline points="212.2,52.12 212.2,52.11 212.21,52.11 212.23,52.11 212.25,52.1 212.28,52.09 212.32,52.08 212.36,52.07 212.41,52.05 212.46,52.03 212.53,52.01 212.59,51.99 212.67,51.97 212.75,51.94 212.84,51.91 212.93,51.89 213.03,51.85 213.14,51.82 213.26,51.79 213.38,51.75 213.5,51.71 213.64,51.67 213.78,51.63 213.92,51.58 214.08,51.54 214.24,51.49 214.4,51.44 214.57,51.39 214.75,51.34 214.94,51.28 215.13,51.23 215.33,51.17 215.54,51.11 215.75,51.05 215.97,50.99 216.19,50.93 216.42,50.87 216.66,50.8 216.9,50.73 217.15,50.67 217.41,50.6 217.68,50.53 217.95,50.46 218.22,50.39 218.51,50.31 218.8,50.24 219.09,50.16 219.4,50.09 219.7,50.01 220.02,49.94 220.34,49.86 220.67,49.78 221.01,49.7 221.35,49.62 221.7,49.54 222.05,49.46 222.41,49.38 222.78,49.3 223.16,49.22 223.54,49.14 223.93,49.05 224.32,48.97 224.72,48.89 225.13,48.8 225.54,48.72 225.96,48.64 226.39,48.56 226.82,48.47 227.26,48.39 227.71,48.31 228.16,48.22 228.62,48.14 229.09,48.06 229.56,47.98 230.04,47.89 230.52,47.81 231.01,47.73 231.51,47.65 232.02,47.57 232.53,47.49 233.05,47.41 233.57,47.33 234.1,47.25 234.64,47.17 235.18,47.09 235.73,47.02 236.29,46.94 236.85,46.86 237.42,46.79 238,46.71 238.58,46.64 239.17,46.56 239.77,46.49 240.37,46.42 240.98,46.35 241.6,46.28 242.22,46.21 242.85,46.14 243.48,46.07 244.12,46 244.77,45.94 245.43,45.87 246.09,45.81 246.76,45.74 247.43,45.68 248.11,45.62 248.8,45.56 249.49,45.5 250.19,45.44 250.9,45.38 251.61,45.32 252.33,45.27 253.06,45.21 253.79,45.16 254.53,45.1 255.28,45.05 256.03,45 256.79,44.95 257.55,44.9 258.33,44.85 259.1,44.8 259.89,44.75 260.68,44.71 261.48,44.66 262.28,44.62 263.09,44.57 263.91,44.53 264.74,44.49 265.57,44.45 266.4,44.41 267.25,44.37 268.1,44.33 268.95,44.29 269.82,44.25 270.69,44.22 271.56,44.18 272.45,44.15 273.34,44.12 274.23,44.08 275.13,44.05 276.04,44.02 276.96,43.99 277.88,43.96 278.81,43.93 279.74,43.9 280.68,43.88 281.63,43.85 282.59,43.82 283.55,43.8 284.51,43.77 285.49,43.75 286.47,43.73 287.46,43.7 288.45,43.68 289.45,43.66 290.46,43.64 291.47,43.62 292.49,43.6 293.51,43.58 294.55,43.56 295.59,43.55 296.63,43.53 297.68,43.51 298.74,43.49 299.81,43.48 300.88,43.46 301.96,43.45 303.04,43.43 304.13,43.42 305.23,43.41 306.33,43.39 307.45,43.38 308.56,43.37 309.69,43.36 310.82,43.35 311.95,43.34 313.1,43.32 314.25,43.31 315.4,43.3 316.57,43.29 317.73,43.29 318.91,43.28 320.09,43.27 321.28,43.26 322.48,43.25 323.68,43.24 324.89,43.24 326.1,43.23 327.32,43.22 328.55,43.22 329.79,43.21 331.03,43.2 332.28,43.2 333.53,43.19 334.79,43.19 336.06,43.18 337.33,43.18 338.61,43.17 339.9,43.17 341.19,43.16 342.49,43.16" fill="none" stroke="#4DBEEE" stroke-width="2.2"  stroke-linejoin="round"/>
<polyline points="212.2,44.51 212.2,44.51 212.21,44.5 212.23,44.48 212.25,44.46 212.28,44.42 212.32,44.38 212.36,44.32 212.41,44.26 212.46,44.19 212.53,44.1 212.59,44 212.67,43.89 212.75,43.77 212.84,43.64 212.93,43.49 213.03,43.32 213.14,43.15 213.26,42.97 213.38,42.77 213.5,42.56 213.64,42.35 213.78,42.12 213.92,41.89 214.08,41.65 214.24,41.41 214.4,41.16 214.57,40.91 214.75,40.66 214.94,40.41 215.13,40.16 215.33,39.91 215.54,39.66 215.75,39.42 215.97,39.18 216.19,38.94 216.42,38.71 216.66,38.48 216.9,38.26 217.15,38.05 217.41,37.85 217.68,37.65 217.95,37.46 218.22,37.28 218.51,37.11 218.8,36.94 219.09,36.79 219.4,36.64 219.7,36.5 220.02,36.37 220.34,36.25 220.67,36.14 221.01,36.03 221.35,35.94 221.7,35.85 222.05,35.77 222.41,35.7 222.78,35.63 223.16,35.58 223.54,35.53 223.93,35.48 224.32,35.45 224.72,35.42 225.13,35.39 225.54,35.38 225.96,35.36 226.39,35.36 226.82,35.35 227.26,35.36 227.71,35.36 228.16,35.38 228.62,35.39 229.09,35.41 229.56,35.43 230.04,35.46 230.52,35.49 231.01,35.52 231.51,35.55 232.02,35.59 232.53,35.63 233.05,35.66 233.57,35.71 234.1,35.75 234.64,35.79 235.18,35.84 235.73,35.88 236.29,35.93 236.85,35.98 237.42,36.03 238,36.07 238.58,36.12 239.17,36.17 239.77,36.22 240.37,36.27 240.98,36.32 241.6,36.37 242.22,36.42 242.85,36.46 243.48,36.51 244.12,36.56 244.77,36.61 245.43,36.65 246.09,36.7 246.76,36.74 247.43,36.79 248.11,36.83 248.8,36.88 249.49,36.92 250.19,36.96 250.9,37 251.61,37.04 252.33,37.08 253.06,37.12 253.79,37.16 254.53,37.19 255.28,37.23 256.03,37.27 256.79,37.3 257.55,37.34 258.33,37.37 259.1,37.4 259.89,37.43 260.68,37.46 261.48,37.49 262.28,37.52 263.09,37.55 263.91,37.58 264.74,37.61 265.57,37.63 266.4,37.66 267.25,37.68 268.1,37.71 268.95,37.73 269.82,37.75 270.69,37.78 271.56,37.8 272.45,37.82 273.34,37.84 274.23,37.86 275.13,37.88 276.04,37.9 276.96,37.91 277.88,37.93 278.81,37.95 279.74,37.97 280.68,37.98 281.63,38 282.59,38.01 283.55,38.02 284.51,38.04 285.49,38.05 286.47,38.06 287.46,38.08 288.45,38.09 289.45,38.1 290.46,38.11 291.47,38.12 292.49,38.13 293.51,38.14 294.55,38.15 295.59,38.16 296.63,38.17 297.68,38.18 298.74,38.19 299.81,38.19 300.88,38.2 301.96,38.21 303.04,38.22 304.13,38.22 305.23,38.23 306.33,38.23 307.45,38.24 308.56,38.25 309.69,38.25 310.82,38.26 311.95,38.26 313.1,38.27 314.25,38.27 315.4,38.27 316.57,38.28 317.73,38.28 318.91,38.29 320.09,38.29 321.28,38.29 322.48,38.3 323.68,38.3 324.89,38.3 326.1,38.31 327.32,38.31 328.55,38.31 329.79,38.31 331.03,38.32 332.28,38.32 333.53,38.32 334.79,38.32 336.06,38.33 337.33,38.33 338.61,38.33 339.9,38.33 341.19,38.33 342.49,38.33" fill="none" stroke="#EDB120" stroke-width="2.2"  stroke-linejoin="round"/>
<polyline points="212.2,50.05 212.2,50.05 212.21,50.04 212.23,50.02 212.25,49.99 212.28,49.95 212.32,49.91 212.36,49.85 212.41,49.79 212.46,49.72 212.53,49.65 212.59,49.56 212.67,49.47 212.75,49.37 212.84,49.27 212.93,49.15 213.03,49.03 213.14,48.9 213.26,48.77 213.38,48.63 213.5,48.48 213.64,48.32 213.78,48.16 213.92,48 214.08,47.82 214.24,47.65 214.4,47.46 214.57,47.27 214.75,47.08 214.94,46.88 215.13,46.67 215.33,46.47 215.54,46.25 215.75,46.04 215.97,45.82 216.19,45.59 216.42,45.36 216.66,45.13 216.9,44.9 217.15,44.66 217.41,44.42 217.68,44.18 217.95,43.94 218.22,43.69 218.51,43.44 218.8,43.19 219.09,42.94 219.4,42.69 219.7,42.44 220.02,42.19 220.34,41.93 220.67,41.68 221.01,41.43 221.35,41.17 221.7,40.92 222.05,40.67 222.41,40.42 222.78,40.17 223.16,39.92 223.54,39.67 223.93,39.42 224.32,39.18 224.72,38.93 225.13,38.69 225.54,38.45 225.96,38.21 226.39,37.98 226.82,37.74 227.26,37.51 227.71,37.29 228.16,37.06 228.62,36.84 229.09,36.62 229.56,36.4 230.04,36.19 230.52,35.98 231.01,35.77 231.51,35.57 232.02,35.36 232.53,35.17 233.05,34.97 233.57,34.78 234.1,34.6 234.64,34.41 235.18,34.23 235.73,34.06 236.29,33.88 236.85,33.72 237.42,33.55 238,33.39 238.58,33.23 239.17,33.08 239.77,32.93 240.37,32.78 240.98,32.63 241.6,32.49 242.22,32.36 242.85,32.23 243.48,32.1 244.12,31.97 244.77,31.85 245.43,31.73 246.09,31.61 246.76,31.5 247.43,31.39 248.11,31.29 248.8,31.18 249.49,31.08 250.19,30.99 250.9,30.9 251.61,30.8 252.33,30.72 253.06,30.63 253.79,30.55 254.53,30.47 255.28,30.4 256.03,30.32 256.79,30.25 257.55,30.18 258.33,30.12 259.1,30.05 259.89,29.99 260.68,29.93 261.48,29.88 262.28,29.82 263.09,29.77 263.91,29.72 264.74,29.67 265.57,29.62 266.4,29.58 267.25,29.54 268.1,29.5 268.95,29.46 269.82,29.42 270.69,29.38 271.56,29.35 272.45,29.32 273.34,29.28 274.23,29.25 275.13,29.22 276.04,29.2 276.96,29.17 277.88,29.15 278.81,29.12 279.74,29.1 280.68,29.08 281.63,29.06 282.59,29.04 283.55,29.02 284.51,29 285.49,28.98 286.47,28.97 287.46,28.95 288.45,28.94 289.45,28.92 290.46,28.91 291.47,28.9 292.49,28.89 293.51,28.87 294.55,28.86 295.59,28.85 296.63,28.84 297.68,28.84 298.74,28.83 299.81,28.82 300.88,28.81 301.96,28.8 303.04,28.8 304.13,28.79 305.23,28.79 306.33,28.78 307.45,28.77 308.56,28.77 309.69,28.76 310.82,28.76 311.95,28.76 313.1,28.75 314.25,28.75 315.4,28.74 316.57,28.74 317.73,28.74 318.91,28.74 320.09,28.73 321.28,28.73 322.48,28.73 323.68,28.73 324.89,28.72 326.1,28.72 327.32,28.72 328.55,28.72 329.79,28.72 331.03,28.71 332.28,28.71 333.53,28.71 334.79,28.71 336.06,28.71 337.33,28.71 338.61,28.71 339.9,28.71 341.19,28.71 342.49,28.7" fill="none" stroke="#A2142F" stroke-width="1.8"  stroke-linejoin="round"/>
<polyline points="212.2,50.85 212.2,50.84 212.21,50.8 212.23,50.74 212.25,50.66 212.28,50.55 212.32,50.42 212.36,50.27 212.41,50.09 212.46,49.89 212.53,49.67 212.59,49.44 212.67,49.18 212.75,48.9 212.84,48.6 212.93,48.29 213.03,47.96 213.14,47.61 213.26,47.25 213.38,46.87 213.5,46.48 213.64,46.08 213.78,45.67 213.92,45.24 214.08,44.81 214.24,44.37 214.4,43.92 214.57,43.47 214.75,43.01 214.94,42.55 215.13,42.08 215.33,41.61 215.54,41.14 215.75,40.66 215.97,40.19 216.19,39.72 216.42,39.25 216.66,38.78 216.9,38.31 217.15,37.85 217.41,37.39 217.68,36.93 217.95,36.48 218.22,36.04 218.51,35.6 218.8,35.17 219.09,34.74 219.4,34.32 219.7,33.91 220.02,33.5 220.34,33.1 220.67,32.71 221.01,32.33 221.35,31.95 221.7,31.58 222.05,31.23 222.41,30.87 222.78,30.53 223.16,30.19 223.54,29.87 223.93,29.55 224.32,29.23 224.72,28.93 225.13,28.63 225.54,28.34 225.96,28.06 226.39,27.79 226.82,27.52 227.26,27.26 227.71,27.01 228.16,26.76 228.62,26.52 229.09,26.29 229.56,26.07 230.04,25.85 230.52,25.63 231.01,25.43 231.51,25.22 232.02,25.03 232.53,24.84 233.05,24.65 233.57,24.48 234.1,24.3 234.64,24.13 235.18,23.97 235.73,23.81 236.29,23.66 236.85,23.51 237.42,23.36 238,23.22 238.58,23.09 239.17,22.96 239.77,22.83 240.37,22.71 240.98,22.59 241.6,22.47 242.22,22.36 242.85,22.25 243.48,22.15 244.12,22.05 244.77,21.95 245.43,21.85 246.09,21.76 246.76,21.67 247.43,21.59 248.11,21.51 248.8,21.43 249.49,21.35 250.19,21.28 250.9,21.21 251.61,21.14 252.33,21.08 253.06,21.01 253.79,20.95 254.53,20.9 255.28,20.84 256.03,20.79 256.79,20.73 257.55,20.69 258.33,20.64 259.1,20.59 259.89,20.55 260.68,20.51 261.48,20.47 262.28,20.43 263.09,20.39 263.91,20.36 264.74,20.33 265.57,20.29 266.4,20.26 267.25,20.23 268.1,20.21 268.95,20.18 269.82,20.15 270.69,20.13 271.56,20.11 272.45,20.09 273.34,20.07 274.23,20.05 275.13,20.03 276.04,20.01 276.96,19.99 277.88,19.98 278.81,19.96 279.74,19.95 280.68,19.93 281.63,19.92 282.59,19.91 283.55,19.9 284.51,19.89 285.49,19.88 286.47,19.87 287.46,19.86 288.45,19.85 289.45,19.84 290.46,19.83 291.47,19.83 292.49,19.82 293.51,19.81 294.55,19.81 295.59,19.8 296.63,19.79 297.68,19.79 298.74,19.78 299.81,19.78 300.88,19.78 301.96,19.77 303.04,19.77 304.13,19.76 305.23,19.76 306.33,19.76 307.45,19.76 308.56,19.75 309.69,19.75 310.82,19.75 311.95,19.75 313.1,19.74 314.25,19.74 315.4,19.74 316.57,19.74 317.73,19.74 318.91,19.74 320.09,19.73 321.28,19.73 322.48,19.73 323.68,19.73 324.89,19.73 326.1,19.73 327.32,19.73 328.55,19.73 329.79,19.73 331.03,19.73 332.28,19.72 333.53,19.72 334.79,19.72 336.06,19.72 337.33,19.72 338.61,19.72 339.9,19.72 341.19,19.72 342.49,19.72" fill="none" stroke="#7E2F8E" stroke-width="1.3"  stroke-linejoin="round"/>
<polyline points="212.2,52.84 212.2,52.83 212.21,52.81 212.23,52.78 212.25,52.74 212.28,52.68 212.32,52.61 212.36,52.52 212.41,52.42 212.46,52.32 212.53,52.19 212.59,52.06 212.67,51.91 212.75,51.75 212.84,51.58 212.93,51.4 213.03,51.21 213.14,51 213.26,50.79 213.38,50.56 213.5,50.32 213.64,50.07 213.78,49.81 213.92,49.55 214.08,49.27 214.24,48.98 214.4,48.68 214.57,48.38 214.75,48.07 214.94,47.75 215.13,47.42 215.33,47.08 215.54,46.74 215.75,46.38 215.97,46.03 216.19,45.66 216.42,45.29 216.66,44.92 216.9,44.54 217.15,44.16 217.41,43.77 217.68,43.37 217.95,42.98 218.22,42.57 218.51,42.17 218.8,41.76 219.09,41.36 219.4,40.94 219.7,40.53 220.02,40.12 220.34,39.7 220.67,39.29 221.01,38.87 221.35,38.45 221.7,38.03 222.05,37.62 222.41,37.2 222.78,36.79 223.16,36.37 223.54,35.96 223.93,35.55 224.32,35.14 224.72,34.74 225.13,34.33 225.54,33.93 225.96,33.54 226.39,33.14 226.82,32.75 227.26,32.36 227.71,31.98 228.16,31.6 228.62,31.22 229.09,30.85 229.56,30.49 230.04,30.12 230.52,29.77 231.01,29.41 231.51,29.07 232.02,28.72 232.53,28.39 233.05,28.05 233.57,27.73 234.1,27.41 234.64,27.09 235.18,26.78 235.73,26.48 236.29,26.18 236.85,25.88 237.42,25.6 238,25.32 238.58,25.04 239.17,24.77 239.77,24.51 240.37,24.25 240.98,24 241.6,23.75 242.22,23.51 242.85,23.27 243.48,23.04 244.12,22.82 244.77,22.6 245.43,22.39 246.09,22.18 246.76,21.98 247.43,21.79 248.11,21.6 248.8,21.41 249.49,21.23 250.19,21.06 250.9,20.89 251.61,20.72 252.33,20.56 253.06,20.41 253.79,20.26 254.53,20.11 255.28,19.97 256.03,19.84 256.79,19.71 257.55,19.58 258.33,19.46 259.1,19.34 259.89,19.22 260.68,19.11 261.48,19 262.28,18.9 263.09,18.8 263.91,18.71 264.74,18.61 265.57,18.53 266.4,18.44 267.25,18.36 268.1,18.28 268.95,18.2 269.82,18.13 270.69,18.06 271.56,17.99 272.45,17.93 273.34,17.87 274.23,17.81 275.13,17.75 276.04,17.7 276.96,17.64 277.88,17.59 278.81,17.55 279.74,17.5 280.68,17.46 281.63,17.41 282.59,17.37 283.55,17.34 284.51,17.3 285.49,17.27 286.47,17.23 287.46,17.2 288.45,17.17 289.45,17.14 290.46,17.12 291.47,17.09 292.49,17.06 293.51,17.04 294.55,17.02 295.59,17 296.63,16.98 297.68,16.96 298.74,16.94 299.81,16.92 300.88,16.91 301.96,16.89 303.04,16.88 304.13,16.86 305.23,16.85 306.33,16.84 307.45,16.83 308.56,16.81 309.69,16.8 310.82,16.79 311.95,16.78 313.1,16.78 314.25,16.77 315.4,16.76 316.57,16.75 317.73,16.74 318.91,16.74 320.09,16.73 321.28,16.73 322.48,16.72 323.68,16.72 324.89,16.71 326.1,16.71 327.32,16.7 328.55,16.7 329.79,16.69 331.03,16.69 332.28,16.69 333.53,16.68 334.79,16.68 336.06,16.68 337.33,16.68 338.61,16.67 339.9,16.67 341.19,16.67 342.49,16.67" fill="none" stroke="#7E2F8E" stroke-width="2.0"  stroke-linejoin="round"/>
<rect x="342.8" y="12.8" width="22.4" height="102.8" fill="#fff" stroke="#777" stroke-width="0.8"/>
<line x1="344.6" y1="17.1" x2="353.6" y2="17.1" stroke="#0072BD" stroke-width="1.2"  stroke-opacity="0.9"/>
<text x="355.6" y="19.5" font-size="8" font-style="italic" fill="#000">θ<tspan font-size="5.6" dy="1.5" dx="-0.2" font-style="normal">1</tspan></text>
<line x1="344.6" y1="23.82" x2="353.6" y2="23.82" stroke="#D95319" stroke-width="1.0" stroke-dasharray="1.4 1.4" stroke-opacity="0.9"/>
<text x="355.6" y="26.22" font-size="8" font-style="italic" fill="#000">θ<tspan font-size="5.6" dy="1.5" dx="-0.2" font-style="normal">2</tspan></text>
<line x1="344.6" y1="30.54" x2="353.6" y2="30.54" stroke="#EDB120" stroke-width="0.7"  stroke-opacity="0.9"/>
<text x="355.6" y="32.94" font-size="8" font-style="italic" fill="#000">θ<tspan font-size="5.6" dy="1.5" dx="-0.2" font-style="normal">3</tspan></text>
<line x1="344.6" y1="37.26" x2="353.6" y2="37.26" stroke="#7E2F8E" stroke-width="0.7"  stroke-opacity="0.9"/>
<circle cx="349.1" cy="37.26" r="0.8" fill="#7E2F8E"/>
<text x="355.6" y="39.66" font-size="8" font-style="italic" fill="#000">θ<tspan font-size="5.6" dy="1.5" dx="-0.2" font-style="normal">4</tspan></text>
<line x1="344.6" y1="43.98" x2="353.6" y2="43.98" stroke="#77AC30" stroke-width="0.7"  stroke-opacity="0.9"/>
<circle cx="349.1" cy="43.98" r="0.8" fill="#77AC30"/>
<text x="355.6" y="46.38" font-size="8" font-style="italic" fill="#000">θ<tspan font-size="5.6" dy="1.5" dx="-0.2" font-style="normal">5</tspan></text>
<line x1="344.6" y1="50.7" x2="353.6" y2="50.7" stroke="#4DBEEE" stroke-width="0.7"  stroke-opacity="0.9"/>
<circle cx="349.1" cy="50.7" r="0.8" fill="#4DBEEE"/>
<text x="355.6" y="53.1" font-size="8" font-style="italic" fill="#000">θ<tspan font-size="5.6" dy="1.5" dx="-0.2" font-style="normal">6</tspan></text>
<line x1="344.6" y1="57.42" x2="353.6" y2="57.42" stroke="#A2142F" stroke-width="0.7"  stroke-opacity="0.9"/>
<circle cx="349.1" cy="57.42" r="0.8" fill="#A2142F"/>
<text x="355.6" y="59.82" font-size="8" font-style="italic" fill="#000">θ<tspan font-size="5.6" dy="1.5" dx="-0.2" font-style="normal">7</tspan></text>
<line x1="344.6" y1="64.14" x2="353.6" y2="64.14" stroke="#0072BD" stroke-width="0.7"  stroke-opacity="0.9"/>
<circle cx="349.1" cy="64.14" r="0.8" fill="#0072BD"/>
<text x="355.6" y="66.54" font-size="8" font-style="italic" fill="#000">θ<tspan font-size="5.6" dy="1.5" dx="-0.2" font-style="normal">8</tspan></text>
<line x1="344.6" y1="70.86" x2="353.6" y2="70.86" stroke="#D95319" stroke-width="0.7"  stroke-opacity="0.9"/>
<circle cx="349.1" cy="70.86" r="0.8" fill="#D95319"/>
<text x="355.6" y="73.26" font-size="8" font-style="italic" fill="#000">θ<tspan font-size="5.6" dy="1.5" dx="-0.2" font-style="normal">9</tspan></text>
<line x1="344.6" y1="77.58" x2="353.6" y2="77.58" stroke="#EDB120" stroke-width="0.7"  stroke-opacity="0.9"/>
<circle cx="349.1" cy="77.58" r="0.8" fill="#EDB120"/>
<text x="355.6" y="79.98" font-size="8" font-style="italic" fill="#000">θ<tspan font-size="5.6" dy="1.5" dx="-0.2" font-style="normal">10</tspan></text>
<line x1="344.6" y1="84.3" x2="353.6" y2="84.3" stroke="#7E2F8E" stroke-width="0.7"  stroke-opacity="0.9"/>
<circle cx="349.1" cy="84.3" r="0.8" fill="#7E2F8E"/>
<text x="355.6" y="86.7" font-size="8" font-style="italic" fill="#000">θ<tspan font-size="5.6" dy="1.5" dx="-0.2" font-style="normal">11</tspan></text>
<line x1="344.6" y1="91.02" x2="353.6" y2="91.02" stroke="#77AC30" stroke-width="0.7"  stroke-opacity="0.9"/>
<circle cx="349.1" cy="91.02" r="0.8" fill="#77AC30"/>
<text x="355.6" y="93.42" font-size="8" font-style="italic" fill="#000">θ<tspan font-size="5.6" dy="1.5" dx="-0.2" font-style="normal">12</tspan></text>
<line x1="344.6" y1="97.74" x2="353.6" y2="97.74" stroke="#4DBEEE" stroke-width="0.7"  stroke-opacity="0.9"/>
<circle cx="349.1" cy="97.74" r="0.8" fill="#4DBEEE"/>
<text x="355.6" y="100.14" font-size="8" font-style="italic" fill="#000">θ<tspan font-size="5.6" dy="1.5" dx="-0.2" font-style="normal">13</tspan></text>
<line x1="344.6" y1="104.46" x2="353.6" y2="104.46" stroke="#A2142F" stroke-width="0.7"  stroke-opacity="0.9"/>
<circle cx="349.1" cy="104.46" r="0.8" fill="#A2142F"/>
<text x="355.6" y="106.86" font-size="8" font-style="italic" fill="#000">θ<tspan font-size="5.6" dy="1.5" dx="-0.2" font-style="normal">14</tspan></text>
<line x1="344.6" y1="111.18" x2="353.6" y2="111.18" stroke="#0072BD" stroke-width="0.7"  stroke-opacity="0.9"/>
<circle cx="349.1" cy="111.18" r="0.8" fill="#0072BD"/>
<text x="355.6" y="113.58" font-size="8" font-style="italic" fill="#000">θ<tspan font-size="5.6" dy="1.5" dx="-0.2" font-style="normal">15</tspan></text>
<text x="93.25" y="160.2" font-size="14.6" text-anchor="middle" fill="#000">(<tspan font-weight="bold">a</tspan>)</text>
<text x="278.3" y="160.2" font-size="14.6" text-anchor="middle" fill="#000">(<tspan font-weight="bold">b</tspan>)</text>
<text x="463.1" y="160.2" font-size="14.6" text-anchor="middle" fill="#000">(<tspan font-weight="bold">c</tspan>)</text>
<text x="93.25" y="314.1" font-size="14.6" text-anchor="middle" fill="#000">(<tspan font-weight="bold">d</tspan>)</text>
<text x="278.1" y="314.1" font-size="14.6" text-anchor="middle" fill="#000">(<tspan font-weight="bold">e</tspan>)</text>
<text x="463.2" y="314.1" font-size="14.6" text-anchor="middle" fill="#000">(<tspan font-weight="normal">f</tspan>)</text>
</svg>
</body></html>
